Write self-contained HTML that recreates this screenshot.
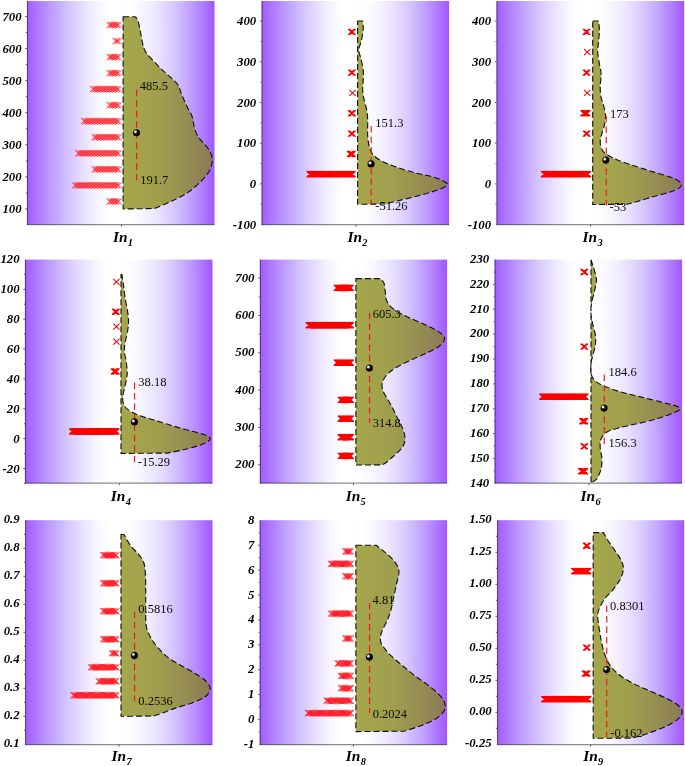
<!DOCTYPE html><html><head><meta charset="utf-8"><title>Violin panels</title>
<style>html,body{margin:0;padding:0;background:#fff}svg{display:block}text{font-family:"Liberation Serif","DejaVu Serif",serif}.tk{font-weight:bold;font-style:italic;font-size:12.8px;text-anchor:end;fill:#000}.an{font-size:12.5px;fill:#0c0c06}.tt{font-weight:bold;font-style:italic;font-size:15.4px;fill:#000}.sb{font-weight:bold;font-style:italic;font-size:10.4px;fill:#000}</style></head><body>
<svg width="685" height="766" viewBox="0 0 685 766">
<defs>
<linearGradient id="bg" x1="0" y1="0" x2="1" y2="0"><stop offset="0" stop-color="#a45aff"/><stop offset="0.025" stop-color="#a868ff"/><stop offset="0.05" stop-color="#ad75ff"/><stop offset="0.075" stop-color="#b281ff"/><stop offset="0.1" stop-color="#b88eff"/><stop offset="0.125" stop-color="#bd9aff"/><stop offset="0.15" stop-color="#c3a5ff"/><stop offset="0.175" stop-color="#c9b0ff"/><stop offset="0.2" stop-color="#cfbbff"/><stop offset="0.225" stop-color="#d5c5ff"/><stop offset="0.25" stop-color="#dbceff"/><stop offset="0.275" stop-color="#e1d7ff"/><stop offset="0.3" stop-color="#e7dfff"/><stop offset="0.325" stop-color="#ede7ff"/><stop offset="0.35" stop-color="#f2eeff"/><stop offset="0.375" stop-color="#f6f4ff"/><stop offset="0.4" stop-color="#faf9ff"/><stop offset="0.425" stop-color="#fdfdff"/><stop offset="0.45" stop-color="#ffffff"/><stop offset="0.475" stop-color="#ffffff"/><stop offset="0.5" stop-color="#ffffff"/><stop offset="0.525" stop-color="#fefeff"/><stop offset="0.55" stop-color="#fdfdff"/><stop offset="0.575" stop-color="#fbfaff"/><stop offset="0.6" stop-color="#f9f7ff"/><stop offset="0.625" stop-color="#f6f3ff"/><stop offset="0.65" stop-color="#f2eeff"/><stop offset="0.675" stop-color="#eee9ff"/><stop offset="0.7" stop-color="#e9e2ff"/><stop offset="0.725" stop-color="#e4dbff"/><stop offset="0.75" stop-color="#dfd3ff"/><stop offset="0.775" stop-color="#d9caff"/><stop offset="0.8" stop-color="#d3c0ff"/><stop offset="0.825" stop-color="#ccb6ff"/><stop offset="0.85" stop-color="#c6aaff"/><stop offset="0.875" stop-color="#c09eff"/><stop offset="0.9" stop-color="#b991ff"/><stop offset="0.925" stop-color="#b383ff"/><stop offset="0.95" stop-color="#ad75ff"/><stop offset="0.975" stop-color="#a765ff"/><stop offset="1" stop-color="#a255ff"/></linearGradient>
<linearGradient id="vg" x1="0" y1="0" x2="1" y2="0"><stop offset="0" stop-color="#a6a64c"/><stop offset="0.4" stop-color="#a09f4e"/><stop offset="0.75" stop-color="#958b52"/><stop offset="1" stop-color="#8a7a56"/></linearGradient>
<radialGradient id="ball" cx="0.35" cy="0.36" r="0.5"><stop offset="0" stop-color="#ffffff"/><stop offset="0.22" stop-color="#e8e8e8"/><stop offset="0.42" stop-color="#5a5a5a"/><stop offset="0.62" stop-color="#0a0a0a"/><stop offset="1" stop-color="#000"/></radialGradient>
</defs>
<rect width="685" height="766" fill="#fff"/>
<g><rect x="27" y="1" width="187.5" height="223.7" fill="url(#bg)"/><path d="M27.45 1V224.7" fill="none" stroke="#000" stroke-opacity="0.42" stroke-width="1.2"/><path d="M26.8 224.55H214.5" fill="none" stroke="#000" stroke-opacity="0.45" stroke-width="1.3"/><text class="tk" x="21.6" y="213.2">100</text><text class="tk" x="21.6" y="181.12">200</text><text class="tk" x="21.6" y="149.03">300</text><text class="tk" x="21.6" y="116.95">400</text><text class="tk" x="21.6" y="84.87">500</text><text class="tk" x="21.6" y="52.78">600</text><text class="tk" x="21.6" y="20.7">700</text><path d="M25.3 209H27M25.3 176.92H27M25.3 144.83H27M25.3 112.75H27M25.3 80.67H27M25.3 48.58H27M25.3 16.5H27M25.9 192.96H27M25.9 160.88H27M25.9 128.79H27M25.9 96.71H27M25.9 64.62H27M25.9 32.54H27M121.6 224.7V226.6" stroke="#333" stroke-width="0.8" fill="none"/><path d="M115.35 21.97L121.65 27.97M115.35 27.97L121.65 21.97M113.85 21.97L120.15 27.97M113.85 27.97L120.15 21.97M112.35 21.97L118.65 27.97M112.35 27.97L118.65 21.97M110.85 21.97L117.15 27.97M110.85 27.97L117.15 21.97M109.35 21.97L115.65 27.97M109.35 27.97L115.65 21.97M107.85 21.97L114.15 27.97M107.85 27.97L114.15 21.97M106.35 21.97L112.65 27.97M106.35 27.97L112.65 21.97" stroke="#ff1420" stroke-opacity="0.95" stroke-width="0.85" fill="none"/><path d="M115.35 38.01L121.65 44.01M115.35 44.01L121.65 38.01M113.85 38.01L120.15 44.01M113.85 44.01L120.15 38.01M112.35 38.01L118.65 44.01M112.35 44.01L118.65 38.01" stroke="#ff1420" stroke-opacity="0.95" stroke-width="0.85" fill="none"/><path d="M115.35 54.05L121.65 60.05M115.35 60.05L121.65 54.05M113.85 54.05L120.15 60.05M113.85 60.05L120.15 54.05M112.35 54.05L118.65 60.05M112.35 60.05L118.65 54.05M110.85 54.05L117.15 60.05M110.85 60.05L117.15 54.05M109.35 54.05L115.65 60.05M109.35 60.05L115.65 54.05M107.85 54.05L114.15 60.05M107.85 60.05L114.15 54.05M106.35 54.05L112.65 60.05M106.35 60.05L112.65 54.05" stroke="#ff1420" stroke-opacity="0.95" stroke-width="0.85" fill="none"/><path d="M115.35 70.1L121.65 76.1M115.35 76.1L121.65 70.1M113.85 70.1L120.15 76.1M113.85 76.1L120.15 70.1M112.35 70.1L118.65 76.1M112.35 76.1L118.65 70.1M110.85 70.1L117.15 76.1M110.85 76.1L117.15 70.1M109.35 70.1L115.65 76.1M109.35 76.1L115.65 70.1M107.85 70.1L114.15 76.1M107.85 76.1L114.15 70.1M106.35 70.1L112.65 76.1M106.35 76.1L112.65 70.1" stroke="#ff1420" stroke-opacity="0.95" stroke-width="0.85" fill="none"/><path d="M115.35 86.14L121.65 92.14M115.35 92.14L121.65 86.14M113.85 86.14L120.15 92.14M113.85 92.14L120.15 86.14M112.35 86.14L118.65 92.14M112.35 92.14L118.65 86.14M110.85 86.14L117.15 92.14M110.85 92.14L117.15 86.14M109.35 86.14L115.65 92.14M109.35 92.14L115.65 86.14M107.85 86.14L114.15 92.14M107.85 92.14L114.15 86.14M106.35 86.14L112.65 92.14M106.35 92.14L112.65 86.14M104.85 86.14L111.15 92.14M104.85 92.14L111.15 86.14M103.35 86.14L109.65 92.14M103.35 92.14L109.65 86.14M101.85 86.14L108.15 92.14M101.85 92.14L108.15 86.14M100.35 86.14L106.65 92.14M100.35 92.14L106.65 86.14M98.85 86.14L105.15 92.14M98.85 92.14L105.15 86.14M97.35 86.14L103.65 92.14M97.35 92.14L103.65 86.14M95.85 86.14L102.15 92.14M95.85 92.14L102.15 86.14M94.35 86.14L100.65 92.14M94.35 92.14L100.65 86.14M92.85 86.14L99.15 92.14M92.85 92.14L99.15 86.14M91.35 86.14L97.65 92.14M91.35 92.14L97.65 86.14M89.85 86.14L96.15 92.14M89.85 92.14L96.15 86.14" stroke="#ff1420" stroke-opacity="0.95" stroke-width="0.85" fill="none"/><path d="M115.35 102.18L121.65 108.18M115.35 108.18L121.65 102.18M113.85 102.18L120.15 108.18M113.85 108.18L120.15 102.18M112.35 102.18L118.65 108.18M112.35 108.18L118.65 102.18M110.85 102.18L117.15 108.18M110.85 108.18L117.15 102.18M109.35 102.18L115.65 108.18M109.35 108.18L115.65 102.18M107.85 102.18L114.15 108.18M107.85 108.18L114.15 102.18M106.35 102.18L112.65 108.18M106.35 108.18L112.65 102.18" stroke="#ff1420" stroke-opacity="0.95" stroke-width="0.85" fill="none"/><path d="M115.35 118.22L121.65 124.22M115.35 124.22L121.65 118.22M113.85 118.22L120.15 124.22M113.85 124.22L120.15 118.22M112.35 118.22L118.65 124.22M112.35 124.22L118.65 118.22M110.85 118.22L117.15 124.22M110.85 124.22L117.15 118.22M109.35 118.22L115.65 124.22M109.35 124.22L115.65 118.22M107.85 118.22L114.15 124.22M107.85 124.22L114.15 118.22M106.35 118.22L112.65 124.22M106.35 124.22L112.65 118.22M104.85 118.22L111.15 124.22M104.85 124.22L111.15 118.22M103.35 118.22L109.65 124.22M103.35 124.22L109.65 118.22M101.85 118.22L108.15 124.22M101.85 124.22L108.15 118.22M100.35 118.22L106.65 124.22M100.35 124.22L106.65 118.22M98.85 118.22L105.15 124.22M98.85 124.22L105.15 118.22M97.35 118.22L103.65 124.22M97.35 124.22L103.65 118.22M95.85 118.22L102.15 124.22M95.85 124.22L102.15 118.22M94.35 118.22L100.65 124.22M94.35 124.22L100.65 118.22M92.85 118.22L99.15 124.22M92.85 124.22L99.15 118.22M91.35 118.22L97.65 124.22M91.35 124.22L97.65 118.22M89.85 118.22L96.15 124.22M89.85 124.22L96.15 118.22M88.35 118.22L94.65 124.22M88.35 124.22L94.65 118.22M86.85 118.22L93.15 124.22M86.85 124.22L93.15 118.22M85.35 118.22L91.65 124.22M85.35 124.22L91.65 118.22M83.85 118.22L90.15 124.22M83.85 124.22L90.15 118.22M82.35 118.22L88.65 124.22M82.35 124.22L88.65 118.22M80.85 118.22L87.15 124.22M80.85 124.22L87.15 118.22" stroke="#ff1420" stroke-opacity="0.95" stroke-width="0.85" fill="none"/><path d="M115.35 134.26L121.65 140.26M115.35 140.26L121.65 134.26M113.85 134.26L120.15 140.26M113.85 140.26L120.15 134.26M112.35 134.26L118.65 140.26M112.35 140.26L118.65 134.26M110.85 134.26L117.15 140.26M110.85 140.26L117.15 134.26M109.35 134.26L115.65 140.26M109.35 140.26L115.65 134.26M107.85 134.26L114.15 140.26M107.85 140.26L114.15 134.26M106.35 134.26L112.65 140.26M106.35 140.26L112.65 134.26M104.85 134.26L111.15 140.26M104.85 140.26L111.15 134.26M103.35 134.26L109.65 140.26M103.35 140.26L109.65 134.26M101.85 134.26L108.15 140.26M101.85 140.26L108.15 134.26M100.35 134.26L106.65 140.26M100.35 140.26L106.65 134.26M98.85 134.26L105.15 140.26M98.85 140.26L105.15 134.26M97.35 134.26L103.65 140.26M97.35 140.26L103.65 134.26M95.85 134.26L102.15 140.26M95.85 140.26L102.15 134.26M94.35 134.26L100.65 140.26M94.35 140.26L100.65 134.26M92.85 134.26L99.15 140.26M92.85 140.26L99.15 134.26M91.35 134.26L97.65 140.26M91.35 140.26L97.65 134.26" stroke="#ff1420" stroke-opacity="0.95" stroke-width="0.85" fill="none"/><path d="M115.35 150.3L121.65 156.3M115.35 156.3L121.65 150.3M113.85 150.3L120.15 156.3M113.85 156.3L120.15 150.3M112.35 150.3L118.65 156.3M112.35 156.3L118.65 150.3M110.85 150.3L117.15 156.3M110.85 156.3L117.15 150.3M109.35 150.3L115.65 156.3M109.35 156.3L115.65 150.3M107.85 150.3L114.15 156.3M107.85 156.3L114.15 150.3M106.35 150.3L112.65 156.3M106.35 156.3L112.65 150.3M104.85 150.3L111.15 156.3M104.85 156.3L111.15 150.3M103.35 150.3L109.65 156.3M103.35 156.3L109.65 150.3M101.85 150.3L108.15 156.3M101.85 156.3L108.15 150.3M100.35 150.3L106.65 156.3M100.35 156.3L106.65 150.3M98.85 150.3L105.15 156.3M98.85 156.3L105.15 150.3M97.35 150.3L103.65 156.3M97.35 156.3L103.65 150.3M95.85 150.3L102.15 156.3M95.85 156.3L102.15 150.3M94.35 150.3L100.65 156.3M94.35 156.3L100.65 150.3M92.85 150.3L99.15 156.3M92.85 156.3L99.15 150.3M91.35 150.3L97.65 156.3M91.35 156.3L97.65 150.3M89.85 150.3L96.15 156.3M89.85 156.3L96.15 150.3M88.35 150.3L94.65 156.3M88.35 156.3L94.65 150.3M86.85 150.3L93.15 156.3M86.85 156.3L93.15 150.3M85.35 150.3L91.65 156.3M85.35 156.3L91.65 150.3M83.85 150.3L90.15 156.3M83.85 156.3L90.15 150.3M82.35 150.3L88.65 156.3M82.35 156.3L88.65 150.3M80.85 150.3L87.15 156.3M80.85 156.3L87.15 150.3M79.35 150.3L85.65 156.3M79.35 156.3L85.65 150.3M77.85 150.3L84.15 156.3M77.85 156.3L84.15 150.3M76.35 150.3L82.65 156.3M76.35 156.3L82.65 150.3M74.85 150.3L81.15 156.3M74.85 156.3L81.15 150.3" stroke="#ff1420" stroke-opacity="0.95" stroke-width="0.85" fill="none"/><path d="M115.35 166.35L121.65 172.35M115.35 172.35L121.65 166.35M113.85 166.35L120.15 172.35M113.85 172.35L120.15 166.35M112.35 166.35L118.65 172.35M112.35 172.35L118.65 166.35M110.85 166.35L117.15 172.35M110.85 172.35L117.15 166.35M109.35 166.35L115.65 172.35M109.35 172.35L115.65 166.35M107.85 166.35L114.15 172.35M107.85 172.35L114.15 166.35M106.35 166.35L112.65 172.35M106.35 172.35L112.65 166.35M104.85 166.35L111.15 172.35M104.85 172.35L111.15 166.35M103.35 166.35L109.65 172.35M103.35 172.35L109.65 166.35M101.85 166.35L108.15 172.35M101.85 172.35L108.15 166.35M100.35 166.35L106.65 172.35M100.35 172.35L106.65 166.35M98.85 166.35L105.15 172.35M98.85 172.35L105.15 166.35M97.35 166.35L103.65 172.35M97.35 172.35L103.65 166.35M95.85 166.35L102.15 172.35M95.85 172.35L102.15 166.35M94.35 166.35L100.65 172.35M94.35 172.35L100.65 166.35M92.85 166.35L99.15 172.35M92.85 172.35L99.15 166.35M91.35 166.35L97.65 172.35M91.35 172.35L97.65 166.35" stroke="#ff1420" stroke-opacity="0.95" stroke-width="0.85" fill="none"/><path d="M115.35 182.39L121.65 188.39M115.35 188.39L121.65 182.39M113.85 182.39L120.15 188.39M113.85 188.39L120.15 182.39M112.35 182.39L118.65 188.39M112.35 188.39L118.65 182.39M110.85 182.39L117.15 188.39M110.85 188.39L117.15 182.39M109.35 182.39L115.65 188.39M109.35 188.39L115.65 182.39M107.85 182.39L114.15 188.39M107.85 188.39L114.15 182.39M106.35 182.39L112.65 188.39M106.35 188.39L112.65 182.39M104.85 182.39L111.15 188.39M104.85 188.39L111.15 182.39M103.35 182.39L109.65 188.39M103.35 188.39L109.65 182.39M101.85 182.39L108.15 188.39M101.85 188.39L108.15 182.39M100.35 182.39L106.65 188.39M100.35 188.39L106.65 182.39M98.85 182.39L105.15 188.39M98.85 188.39L105.15 182.39M97.35 182.39L103.65 188.39M97.35 188.39L103.65 182.39M95.85 182.39L102.15 188.39M95.85 188.39L102.15 182.39M94.35 182.39L100.65 188.39M94.35 188.39L100.65 182.39M92.85 182.39L99.15 188.39M92.85 188.39L99.15 182.39M91.35 182.39L97.65 188.39M91.35 188.39L97.65 182.39M89.85 182.39L96.15 188.39M89.85 188.39L96.15 182.39M88.35 182.39L94.65 188.39M88.35 188.39L94.65 182.39M86.85 182.39L93.15 188.39M86.85 188.39L93.15 182.39M85.35 182.39L91.65 188.39M85.35 188.39L91.65 182.39M83.85 182.39L90.15 188.39M83.85 188.39L90.15 182.39M82.35 182.39L88.65 188.39M82.35 188.39L88.65 182.39M80.85 182.39L87.15 188.39M80.85 188.39L87.15 182.39M79.35 182.39L85.65 188.39M79.35 188.39L85.65 182.39M77.85 182.39L84.15 188.39M77.85 188.39L84.15 182.39M76.35 182.39L82.65 188.39M76.35 188.39L82.65 182.39M74.85 182.39L81.15 188.39M74.85 188.39L81.15 182.39M73.35 182.39L79.65 188.39M73.35 188.39L79.65 182.39M71.85 182.39L78.15 188.39M71.85 188.39L78.15 182.39" stroke="#ff1420" stroke-opacity="0.95" stroke-width="0.85" fill="none"/><path d="M115.35 198.43L121.65 204.43M115.35 204.43L121.65 198.43M113.85 198.43L120.15 204.43M113.85 204.43L120.15 198.43M112.35 198.43L118.65 204.43M112.35 204.43L118.65 198.43M110.85 198.43L117.15 204.43M110.85 204.43L117.15 198.43M109.35 198.43L115.65 204.43M109.35 204.43L115.65 198.43M107.85 198.43L114.15 204.43M107.85 204.43L114.15 198.43M106.35 198.43L112.65 204.43M106.35 204.43L112.65 198.43" stroke="#ff1420" stroke-opacity="0.95" stroke-width="0.85" fill="none"/><path d="M123.1 16.8L135.1 16.8C135.53 17.35 136.85 17.87 137.7 20.1C138.55 22.33 139.37 26.28 140.2 30.2C141.03 34.12 141.75 39.9 142.7 43.6C143.65 47.3 143.8 49.18 145.9 52.4C148 55.62 152.37 59.77 155.3 62.9C158.23 66.03 160.77 68.65 163.5 71.2C166.23 73.75 169.25 75.85 171.7 78.2C174.15 80.55 176.53 82.55 178.2 85.3C179.87 88.05 180.23 91.18 181.7 94.7C183.17 98.22 185.23 102.68 187 106.4C188.77 110.12 191.12 113.67 192.3 117C193.48 120.33 193.25 123.32 194.1 126.4C194.95 129.48 195.95 132.83 197.4 135.5C198.85 138.17 200.87 140.02 202.8 142.4C204.73 144.78 207.42 147.03 209 149.8C210.58 152.57 212.17 155.63 212.3 159C212.43 162.37 211.48 166.5 209.8 170C208.12 173.5 205.7 176.37 202.2 180C198.7 183.63 193.83 188.3 188.8 191.8C183.77 195.3 177.73 198.22 172 201C166.27 203.78 157.33 207.25 154.4 208.5L123.1 209Z" fill="url(#vg)" stroke="#111" stroke-width="1.12" stroke-dasharray="6 3" stroke-linejoin="round"/><path d="M136.65 89.8V180" stroke="#f51414" stroke-width="1.15" stroke-dasharray="6.4 4.1" fill="none"/><circle cx="136.5" cy="132.7" r="3.55" fill="url(#ball)"/><text class="an" x="139.8" y="89.8">485.5</text><text class="an" x="140.2" y="184">191.7</text><text class="tt" x="112.9" y="241.7">In<tspan class="sb" dx="0.3" dy="4.3">1</tspan></text></g>
<g><rect x="261.6" y="1" width="187.5" height="223.7" fill="url(#bg)"/><path d="M262.05 1V224.7" fill="none" stroke="#000" stroke-opacity="0.42" stroke-width="1.2"/><path d="M261.4 224.55H449.1" fill="none" stroke="#000" stroke-opacity="0.45" stroke-width="1.3"/><text class="tk" x="256.2" y="228.8">-100</text><text class="tk" x="256.2" y="188.1">0</text><text class="tk" x="256.2" y="147.4">100</text><text class="tk" x="256.2" y="106.7">200</text><text class="tk" x="256.2" y="66">300</text><text class="tk" x="256.2" y="25.3">400</text><path d="M259.9 183.9H261.6M259.9 143.2H261.6M259.9 102.5H261.6M259.9 61.8H261.6M259.9 21.1H261.6M260.5 204.25H261.6M260.5 163.55H261.6M260.5 122.85H261.6M260.5 82.15H261.6M260.5 41.45H261.6M356.1 224.7V226.6" stroke="#333" stroke-width="0.8" fill="none"/><path d="M349.45 171.2L355.75 177.2M349.45 177.2L355.75 171.2M348.45 171.2L354.75 177.2M348.45 177.2L354.75 171.2M347.45 171.2L353.75 177.2M347.45 177.2L353.75 171.2M346.45 171.2L352.75 177.2M346.45 177.2L352.75 171.2M345.45 171.2L351.75 177.2M345.45 177.2L351.75 171.2M344.45 171.2L350.75 177.2M344.45 177.2L350.75 171.2M343.45 171.2L349.75 177.2M343.45 177.2L349.75 171.2M342.45 171.2L348.75 177.2M342.45 177.2L348.75 171.2M341.45 171.2L347.75 177.2M341.45 177.2L347.75 171.2M340.45 171.2L346.75 177.2M340.45 177.2L346.75 171.2M339.45 171.2L345.75 177.2M339.45 177.2L345.75 171.2M338.45 171.2L344.75 177.2M338.45 177.2L344.75 171.2M337.45 171.2L343.75 177.2M337.45 177.2L343.75 171.2M336.45 171.2L342.75 177.2M336.45 177.2L342.75 171.2M335.45 171.2L341.75 177.2M335.45 177.2L341.75 171.2M334.45 171.2L340.75 177.2M334.45 177.2L340.75 171.2M333.45 171.2L339.75 177.2M333.45 177.2L339.75 171.2M332.45 171.2L338.75 177.2M332.45 177.2L338.75 171.2M331.45 171.2L337.75 177.2M331.45 177.2L337.75 171.2M330.45 171.2L336.75 177.2M330.45 177.2L336.75 171.2M329.45 171.2L335.75 177.2M329.45 177.2L335.75 171.2M328.45 171.2L334.75 177.2M328.45 177.2L334.75 171.2M327.45 171.2L333.75 177.2M327.45 177.2L333.75 171.2M326.45 171.2L332.75 177.2M326.45 177.2L332.75 171.2M325.45 171.2L331.75 177.2M325.45 177.2L331.75 171.2M324.45 171.2L330.75 177.2M324.45 177.2L330.75 171.2M323.45 171.2L329.75 177.2M323.45 177.2L329.75 171.2M322.45 171.2L328.75 177.2M322.45 177.2L328.75 171.2M321.45 171.2L327.75 177.2M321.45 177.2L327.75 171.2M320.45 171.2L326.75 177.2M320.45 177.2L326.75 171.2M319.45 171.2L325.75 177.2M319.45 177.2L325.75 171.2M318.45 171.2L324.75 177.2M318.45 177.2L324.75 171.2M317.45 171.2L323.75 177.2M317.45 177.2L323.75 171.2M316.45 171.2L322.75 177.2M316.45 177.2L322.75 171.2M315.45 171.2L321.75 177.2M315.45 177.2L321.75 171.2M314.45 171.2L320.75 177.2M314.45 177.2L320.75 171.2M313.45 171.2L319.75 177.2M313.45 177.2L319.75 171.2M312.45 171.2L318.75 177.2M312.45 177.2L318.75 171.2M311.45 171.2L317.75 177.2M311.45 177.2L317.75 171.2M310.45 171.2L316.75 177.2M310.45 177.2L316.75 171.2M309.45 171.2L315.75 177.2M309.45 177.2L315.75 171.2M308.45 171.2L314.75 177.2M308.45 177.2L314.75 171.2M307.45 171.2L313.75 177.2M307.45 177.2L313.75 171.2M306.45 171.2L312.75 177.2M306.45 177.2L312.75 171.2" stroke="#ff0000" stroke-width="1.15" fill="none"/><path d="M349.35 28.88L355.65 34.88M349.35 34.88L355.65 28.88M348.1 28.88L354.4 34.88M348.1 34.88L354.4 28.88" stroke="#ff0000" stroke-width="1.2" fill="none"/><path d="M349.35 69.57L355.65 75.57M349.35 75.57L355.65 69.57M348.1 69.57L354.4 75.57M348.1 75.57L354.4 69.57" stroke="#ff0000" stroke-width="1.2" fill="none"/><path d="M349.35 89.92L355.65 95.92M349.35 95.92L355.65 89.92" stroke="#ff0000" stroke-width="1.05" fill="none"/><path d="M349.35 110.28L355.65 116.28M349.35 116.28L355.65 110.28M348.1 110.28L354.4 116.28M348.1 116.28L354.4 110.28" stroke="#ff0000" stroke-width="1.2" fill="none"/><path d="M349.35 130.62L355.65 136.62M349.35 136.62L355.65 130.62M348.1 130.62L354.4 136.62M348.1 136.62L354.4 130.62" stroke="#ff0000" stroke-width="1.2" fill="none"/><path d="M349.35 150.97L355.65 156.97M349.35 156.97L355.65 150.97M348.15 150.97L354.45 156.97M348.15 156.97L354.45 150.97M346.95 150.97L353.25 156.97M346.95 156.97L353.25 150.97" stroke="#ff0000" stroke-width="1.2" fill="none"/><path d="M357.6 21L362.7 21C362.78 22.53 363.48 26.7 363.2 30.2C362.92 33.7 361.73 38.63 361 42C360.27 45.37 358.8 47.6 358.8 50.4C358.8 53.2 360.27 55.45 361 58.8C361.73 62.15 362.83 66.87 363.2 70.5C363.57 74.13 363.28 77.25 363.2 80.6C363.12 83.95 362.52 87.25 362.7 90.6C362.88 93.95 363.6 97.33 364.3 100.7C365 104.07 366.33 107.43 366.9 110.8C367.47 114.17 367.57 116.83 367.7 120.9C367.83 124.97 367.42 130.87 367.7 135.2C367.98 139.53 368.42 143.55 369.4 146.9C370.38 150.25 371.23 152.78 373.6 155.3C375.97 157.82 379.4 159.9 383.6 162C387.8 164.1 393.48 166.07 398.8 167.9C404.12 169.73 410.2 171.6 415.5 173C420.8 174.4 426.4 175.18 430.6 176.3C434.8 177.42 438.03 178.58 440.7 179.7C443.37 180.82 445.62 182.03 446.6 183C447.58 183.97 447.58 184.52 446.6 185.5C445.62 186.48 443.37 187.77 440.7 188.9C438.03 190.03 434.8 191.03 430.6 192.3C426.4 193.57 420.8 195.12 415.5 196.5C410.2 197.88 403.83 199.35 398.8 200.6C393.77 201.85 387.55 203.43 385.3 204L357.6 204.3Z" fill="url(#vg)" stroke="#111" stroke-width="1.12" stroke-dasharray="6 3" stroke-linejoin="round"/><path d="M371.2 126V204.8" stroke="#f51414" stroke-width="1.15" stroke-dasharray="6.4 4.1" fill="none"/><circle cx="371.05" cy="163.9" r="3.55" fill="url(#ball)"/><text class="an" x="375.3" y="126.8">151.3</text><text class="an" x="375.3" y="210.1">-51.26</text><text class="tt" x="347.5" y="241.7">In<tspan class="sb" dx="0.3" dy="4.3">2</tspan></text></g>
<g><rect x="496.5" y="1" width="187.7" height="223.7" fill="url(#bg)"/><path d="M496.95 1V224.7" fill="none" stroke="#000" stroke-opacity="0.42" stroke-width="1.2"/><path d="M496.3 224.55H684.2" fill="none" stroke="#000" stroke-opacity="0.45" stroke-width="1.3"/><text class="tk" x="491.1" y="228.8">-100</text><text class="tk" x="491.1" y="188.1">0</text><text class="tk" x="491.1" y="147.4">100</text><text class="tk" x="491.1" y="106.7">200</text><text class="tk" x="491.1" y="66">300</text><text class="tk" x="491.1" y="25.3">400</text><path d="M494.8 183.9H496.5M494.8 143.2H496.5M494.8 102.5H496.5M494.8 61.8H496.5M494.8 21.1H496.5M495.4 204.25H496.5M495.4 163.55H496.5M495.4 122.85H496.5M495.4 82.15H496.5M495.4 41.45H496.5M590.5 224.7V226.6" stroke="#333" stroke-width="0.8" fill="none"/><path d="M584.85 171.2L591.15 177.2M584.85 177.2L591.15 171.2M583.85 171.2L590.15 177.2M583.85 177.2L590.15 171.2M582.85 171.2L589.15 177.2M582.85 177.2L589.15 171.2M581.85 171.2L588.15 177.2M581.85 177.2L588.15 171.2M580.85 171.2L587.15 177.2M580.85 177.2L587.15 171.2M579.85 171.2L586.15 177.2M579.85 177.2L586.15 171.2M578.85 171.2L585.15 177.2M578.85 177.2L585.15 171.2M577.85 171.2L584.15 177.2M577.85 177.2L584.15 171.2M576.85 171.2L583.15 177.2M576.85 177.2L583.15 171.2M575.85 171.2L582.15 177.2M575.85 177.2L582.15 171.2M574.85 171.2L581.15 177.2M574.85 177.2L581.15 171.2M573.85 171.2L580.15 177.2M573.85 177.2L580.15 171.2M572.85 171.2L579.15 177.2M572.85 177.2L579.15 171.2M571.85 171.2L578.15 177.2M571.85 177.2L578.15 171.2M570.85 171.2L577.15 177.2M570.85 177.2L577.15 171.2M569.85 171.2L576.15 177.2M569.85 177.2L576.15 171.2M568.85 171.2L575.15 177.2M568.85 177.2L575.15 171.2M567.85 171.2L574.15 177.2M567.85 177.2L574.15 171.2M566.85 171.2L573.15 177.2M566.85 177.2L573.15 171.2M565.85 171.2L572.15 177.2M565.85 177.2L572.15 171.2M564.85 171.2L571.15 177.2M564.85 177.2L571.15 171.2M563.85 171.2L570.15 177.2M563.85 177.2L570.15 171.2M562.85 171.2L569.15 177.2M562.85 177.2L569.15 171.2M561.85 171.2L568.15 177.2M561.85 177.2L568.15 171.2M560.85 171.2L567.15 177.2M560.85 177.2L567.15 171.2M559.85 171.2L566.15 177.2M559.85 177.2L566.15 171.2M558.85 171.2L565.15 177.2M558.85 177.2L565.15 171.2M557.85 171.2L564.15 177.2M557.85 177.2L564.15 171.2M556.85 171.2L563.15 177.2M556.85 177.2L563.15 171.2M555.85 171.2L562.15 177.2M555.85 177.2L562.15 171.2M554.85 171.2L561.15 177.2M554.85 177.2L561.15 171.2M553.85 171.2L560.15 177.2M553.85 177.2L560.15 171.2M552.85 171.2L559.15 177.2M552.85 177.2L559.15 171.2M551.85 171.2L558.15 177.2M551.85 177.2L558.15 171.2M550.85 171.2L557.15 177.2M550.85 177.2L557.15 171.2M549.85 171.2L556.15 177.2M549.85 177.2L556.15 171.2M548.85 171.2L555.15 177.2M548.85 177.2L555.15 171.2M547.85 171.2L554.15 177.2M547.85 177.2L554.15 171.2M546.85 171.2L553.15 177.2M546.85 177.2L553.15 171.2M545.85 171.2L552.15 177.2M545.85 177.2L552.15 171.2M544.85 171.2L551.15 177.2M544.85 177.2L551.15 171.2M543.85 171.2L550.15 177.2M543.85 177.2L550.15 171.2M542.85 171.2L549.15 177.2M542.85 177.2L549.15 171.2M541.85 171.2L548.15 177.2M541.85 177.2L548.15 171.2M540.85 171.2L547.15 177.2M540.85 177.2L547.15 171.2" stroke="#ff0000" stroke-width="1.15" fill="none"/><path d="M584.05 28.88L590.35 34.88M584.05 34.88L590.35 28.88M582.8 28.88L589.1 34.88M582.8 34.88L589.1 28.88" stroke="#ff0000" stroke-width="1.2" fill="none"/><path d="M584.05 49.23L590.35 55.23M584.05 55.23L590.35 49.23" stroke="#ff0000" stroke-width="1.05" fill="none"/><path d="M584.05 69.57L590.35 75.57M584.05 75.57L590.35 69.57M582.8 69.57L589.1 75.57M582.8 75.57L589.1 69.57" stroke="#ff0000" stroke-width="1.2" fill="none"/><path d="M584.05 89.92L590.35 95.92M584.05 95.92L590.35 89.92" stroke="#ff0000" stroke-width="1.05" fill="none"/><path d="M584.05 110.28L590.35 116.28M584.05 116.28L590.35 110.28M582.85 110.28L589.15 116.28M582.85 116.28L589.15 110.28M581.65 110.28L587.95 116.28M581.65 116.28L587.95 110.28M580.45 110.28L586.75 116.28M580.45 116.28L586.75 110.28" stroke="#ff0000" stroke-width="1.2" fill="none"/><path d="M584.05 130.62L590.35 136.62M584.05 136.62L590.35 130.62M582.8 130.62L589.1 136.62M582.8 136.62L589.1 130.62" stroke="#ff0000" stroke-width="1.2" fill="none"/><path d="M592.7 21L598.5 21C598.65 22.53 599.4 26.7 599.4 30.2C599.4 33.7 598.78 38.37 598.5 42C598.22 45.63 597.55 48.37 597.7 52C597.85 55.63 598.83 60.15 599.4 63.8C599.97 67.45 600.97 69.98 601.1 73.9C601.23 77.82 600.2 83.38 600.2 87.3C600.2 91.22 600.53 94.32 601.1 97.4C601.67 100.48 602.85 102.73 603.6 105.8C604.35 108.87 605.47 112.58 605.6 115.8C605.73 119.02 605.02 122.15 604.4 125.1C603.78 128.05 602.6 130.7 601.9 133.5C601.2 136.3 600.2 139.25 600.2 141.9C600.2 144.55 600.78 147.3 601.9 149.4C603.02 151.5 604.1 152.67 606.9 154.5C609.7 156.33 613.93 158.45 618.7 160.4C623.47 162.35 629.63 164.25 635.5 166.2C641.37 168.15 648.03 170.27 653.9 172.1C659.77 173.93 666.5 175.67 670.7 177.2C674.9 178.73 677.28 180.18 679.1 181.3C680.92 182.42 681.6 182.77 681.6 183.9C681.6 185.03 681.2 186.7 679.1 188.1C677 189.5 673.2 190.9 669 192.3C664.8 193.7 659.2 194.97 653.9 196.5C648.6 198.03 641.67 200.2 637.2 201.5C632.73 202.8 628.78 203.83 627.1 204.3L592.7 204.5Z" fill="url(#vg)" stroke="#111" stroke-width="1.12" stroke-dasharray="6 3" stroke-linejoin="round"/><path d="M606.25 115.9V205.7" stroke="#f51414" stroke-width="1.15" stroke-dasharray="6.4 4.1" fill="none"/><circle cx="605.8" cy="160.1" r="3.55" fill="url(#ball)"/><text class="an" x="610" y="117.5">173</text><text class="an" x="609.5" y="210.5">-53</text><text class="tt" x="582.6" y="241.7">In<tspan class="sb" dx="0.3" dy="4.3">3</tspan></text></g>
<g><rect x="25" y="259.6" width="187.5" height="223.7" fill="url(#bg)"/><path d="M25.45 259.6V483.3" fill="none" stroke="#000" stroke-opacity="0.42" stroke-width="1.2"/><path d="M24.8 483.15H212.5" fill="none" stroke="#000" stroke-opacity="0.45" stroke-width="1.3"/><text class="tk" x="19.6" y="472.58">-20</text><text class="tk" x="19.6" y="442.7">0</text><text class="tk" x="19.6" y="412.82">20</text><text class="tk" x="19.6" y="382.93">40</text><text class="tk" x="19.6" y="353.05">60</text><text class="tk" x="19.6" y="323.17">80</text><text class="tk" x="19.6" y="293.28">100</text><text class="tk" x="19.6" y="262.7">120</text><path d="M23.3 468.58H25M23.3 438.7H25M23.3 408.82H25M23.3 378.93H25M23.3 349.05H25M23.3 319.17H25M23.3 289.28H25M23.9 483.52H25M23.9 453.64H25M23.9 423.76H25M23.9 393.88H25M23.9 363.99H25M23.9 334.11H25M23.9 304.22H25M23.9 274.34H25M119.3 483.3V485.2" stroke="#333" stroke-width="0.8" fill="none"/><path d="M113.15 428.5L119.45 434.5M113.15 434.5L119.45 428.5M112.15 428.5L118.45 434.5M112.15 434.5L118.45 428.5M111.15 428.5L117.45 434.5M111.15 434.5L117.45 428.5M110.15 428.5L116.45 434.5M110.15 434.5L116.45 428.5M109.15 428.5L115.45 434.5M109.15 434.5L115.45 428.5M108.15 428.5L114.45 434.5M108.15 434.5L114.45 428.5M107.15 428.5L113.45 434.5M107.15 434.5L113.45 428.5M106.15 428.5L112.45 434.5M106.15 434.5L112.45 428.5M105.15 428.5L111.45 434.5M105.15 434.5L111.45 428.5M104.15 428.5L110.45 434.5M104.15 434.5L110.45 428.5M103.15 428.5L109.45 434.5M103.15 434.5L109.45 428.5M102.15 428.5L108.45 434.5M102.15 434.5L108.45 428.5M101.15 428.5L107.45 434.5M101.15 434.5L107.45 428.5M100.15 428.5L106.45 434.5M100.15 434.5L106.45 428.5M99.15 428.5L105.45 434.5M99.15 434.5L105.45 428.5M98.15 428.5L104.45 434.5M98.15 434.5L104.45 428.5M97.15 428.5L103.45 434.5M97.15 434.5L103.45 428.5M96.15 428.5L102.45 434.5M96.15 434.5L102.45 428.5M95.15 428.5L101.45 434.5M95.15 434.5L101.45 428.5M94.15 428.5L100.45 434.5M94.15 434.5L100.45 428.5M93.15 428.5L99.45 434.5M93.15 434.5L99.45 428.5M92.15 428.5L98.45 434.5M92.15 434.5L98.45 428.5M91.15 428.5L97.45 434.5M91.15 434.5L97.45 428.5M90.15 428.5L96.45 434.5M90.15 434.5L96.45 428.5M89.15 428.5L95.45 434.5M89.15 434.5L95.45 428.5M88.15 428.5L94.45 434.5M88.15 434.5L94.45 428.5M87.15 428.5L93.45 434.5M87.15 434.5L93.45 428.5M86.15 428.5L92.45 434.5M86.15 434.5L92.45 428.5M85.15 428.5L91.45 434.5M85.15 434.5L91.45 428.5M84.15 428.5L90.45 434.5M84.15 434.5L90.45 428.5M83.15 428.5L89.45 434.5M83.15 434.5L89.45 428.5M82.15 428.5L88.45 434.5M82.15 434.5L88.45 428.5M81.15 428.5L87.45 434.5M81.15 434.5L87.45 428.5M80.15 428.5L86.45 434.5M80.15 434.5L86.45 428.5M79.15 428.5L85.45 434.5M79.15 434.5L85.45 428.5M78.15 428.5L84.45 434.5M78.15 434.5L84.45 428.5M77.15 428.5L83.45 434.5M77.15 434.5L83.45 428.5M76.15 428.5L82.45 434.5M76.15 434.5L82.45 428.5M75.15 428.5L81.45 434.5M75.15 434.5L81.45 428.5M74.15 428.5L80.45 434.5M74.15 434.5L80.45 428.5M73.15 428.5L79.45 434.5M73.15 434.5L79.45 428.5M72.15 428.5L78.45 434.5M72.15 434.5L78.45 428.5M71.15 428.5L77.45 434.5M71.15 434.5L77.45 428.5M70.15 428.5L76.45 434.5M70.15 434.5L76.45 428.5M69.15 428.5L75.45 434.5M69.15 434.5L75.45 428.5" stroke="#ff0000" stroke-width="1.15" fill="none"/><path d="M113.25 278.81L119.55 284.81M113.25 284.81L119.55 278.81" stroke="#ff0000" stroke-width="1.05" fill="none"/><path d="M113.25 308.7L119.55 314.7M113.25 314.7L119.55 308.7M112 308.7L118.3 314.7M112 314.7L118.3 308.7" stroke="#ff0000" stroke-width="1.2" fill="none"/><path d="M113.25 323.64L119.55 329.64M113.25 329.64L119.55 323.64" stroke="#ff0000" stroke-width="1.05" fill="none"/><path d="M113.25 338.58L119.55 344.58M113.25 344.58L119.55 338.58" stroke="#ff0000" stroke-width="1.05" fill="none"/><path d="M113.25 368.46L119.55 374.46M113.25 374.46L119.55 368.46M112.05 368.46L118.35 374.46M112.05 374.46L118.35 368.46M110.85 368.46L117.15 374.46M110.85 374.46L117.15 368.46" stroke="#ff0000" stroke-width="1.2" fill="none"/><path d="M121 274.3L121.8 274.3C122.08 276.12 122.93 281.15 123.5 285.2C124.07 289.25 124.5 294.12 125.2 298.6C125.9 303.08 127.15 308.18 127.7 312.1C128.25 316.02 128.5 319.03 128.5 322.1C128.5 325.17 128.25 327.13 127.7 330.5C127.15 333.87 125.77 338.93 125.2 342.3C124.63 345.67 124.17 347.62 124.3 350.7C124.43 353.78 125.52 357.45 126 360.8C126.48 364.15 127.05 368.15 127.2 370.8C127.35 373.45 127.3 374.03 126.9 376.7C126.5 379.37 125.5 383.43 124.8 386.8C124.1 390.17 122.92 394.1 122.7 396.9C122.48 399.7 122.67 401.52 123.5 403.6C124.33 405.68 125.18 407.45 127.7 409.4C130.22 411.35 133.98 413.47 138.6 415.3C143.22 417.13 149.52 418.58 155.4 420.4C161.28 422.22 167.75 424.38 173.9 426.2C180.05 428.02 187.27 429.9 192.3 431.3C197.33 432.7 201.15 433.48 204.1 434.6C207.05 435.72 209.3 436.88 210 438C210.7 439.12 210.13 440.05 208.3 441.3C206.47 442.55 203.07 444.1 199 445.5C194.93 446.9 189.2 448.43 183.9 449.7C178.6 450.97 169.98 452.53 167.2 453.1L121 453.4Z" fill="url(#vg)" stroke="#111" stroke-width="1.12" stroke-dasharray="6 3" stroke-linejoin="round"/><path d="M134.55 382.6V462.3" stroke="#f51414" stroke-width="1.15" stroke-dasharray="6.4 4.1" fill="none"/><circle cx="134.4" cy="421.9" r="3.55" fill="url(#ball)"/><text class="an" x="138.3" y="386">38.18</text><text class="an" x="137.8" y="466.2">-15.29</text><text class="tt" x="110.8" y="500.6">In<tspan class="sb" dx="0.3" dy="4.3">4</tspan></text></g>
<g><rect x="259.9" y="259.6" width="187.2" height="223.7" fill="url(#bg)"/><path d="M260.35 259.6V483.3" fill="none" stroke="#000" stroke-opacity="0.42" stroke-width="1.2"/><path d="M259.7 483.15H447.1" fill="none" stroke="#000" stroke-opacity="0.45" stroke-width="1.3"/><text class="tk" x="254.5" y="468.2">200</text><text class="tk" x="254.5" y="430.88">300</text><text class="tk" x="254.5" y="393.56">400</text><text class="tk" x="254.5" y="356.24">500</text><text class="tk" x="254.5" y="318.92">600</text><text class="tk" x="254.5" y="281.6">700</text><path d="M258.2 464.8H259.9M258.2 427.48H259.9M258.2 390.16H259.9M258.2 352.84H259.9M258.2 315.52H259.9M258.2 278.2H259.9M258.8 446.14H259.9M258.8 408.82H259.9M258.8 371.5H259.9M258.8 334.18H259.9M258.8 296.86H259.9M353.4 483.3V485.2" stroke="#333" stroke-width="0.8" fill="none"/><path d="M347.65 284.93L353.95 290.93M347.65 290.93L353.95 284.93M346.65 284.93L352.95 290.93M346.65 290.93L352.95 284.93M345.65 284.93L351.95 290.93M345.65 290.93L351.95 284.93M344.65 284.93L350.95 290.93M344.65 290.93L350.95 284.93M343.65 284.93L349.95 290.93M343.65 290.93L349.95 284.93M342.65 284.93L348.95 290.93M342.65 290.93L348.95 284.93M341.65 284.93L347.95 290.93M341.65 290.93L347.95 284.93M340.65 284.93L346.95 290.93M340.65 290.93L346.95 284.93M339.65 284.93L345.95 290.93M339.65 290.93L345.95 284.93M338.65 284.93L344.95 290.93M338.65 290.93L344.95 284.93M337.65 284.93L343.95 290.93M337.65 290.93L343.95 284.93M336.65 284.93L342.95 290.93M336.65 290.93L342.95 284.93M335.65 284.93L341.95 290.93M335.65 290.93L341.95 284.93M334.65 284.93L340.95 290.93M334.65 290.93L340.95 284.93M333.65 284.93L339.95 290.93M333.65 290.93L339.95 284.93" stroke="#ff0000" stroke-width="1.15" fill="none"/><path d="M347.65 322.25L353.95 328.25M347.65 328.25L353.95 322.25M346.65 322.25L352.95 328.25M346.65 328.25L352.95 322.25M345.65 322.25L351.95 328.25M345.65 328.25L351.95 322.25M344.65 322.25L350.95 328.25M344.65 328.25L350.95 322.25M343.65 322.25L349.95 328.25M343.65 328.25L349.95 322.25M342.65 322.25L348.95 328.25M342.65 328.25L348.95 322.25M341.65 322.25L347.95 328.25M341.65 328.25L347.95 322.25M340.65 322.25L346.95 328.25M340.65 328.25L346.95 322.25M339.65 322.25L345.95 328.25M339.65 328.25L345.95 322.25M338.65 322.25L344.95 328.25M338.65 328.25L344.95 322.25M337.65 322.25L343.95 328.25M337.65 328.25L343.95 322.25M336.65 322.25L342.95 328.25M336.65 328.25L342.95 322.25M335.65 322.25L341.95 328.25M335.65 328.25L341.95 322.25M334.65 322.25L340.95 328.25M334.65 328.25L340.95 322.25M333.65 322.25L339.95 328.25M333.65 328.25L339.95 322.25M332.65 322.25L338.95 328.25M332.65 328.25L338.95 322.25M331.65 322.25L337.95 328.25M331.65 328.25L337.95 322.25M330.65 322.25L336.95 328.25M330.65 328.25L336.95 322.25M329.65 322.25L335.95 328.25M329.65 328.25L335.95 322.25M328.65 322.25L334.95 328.25M328.65 328.25L334.95 322.25M327.65 322.25L333.95 328.25M327.65 328.25L333.95 322.25M326.65 322.25L332.95 328.25M326.65 328.25L332.95 322.25M325.65 322.25L331.95 328.25M325.65 328.25L331.95 322.25M324.65 322.25L330.95 328.25M324.65 328.25L330.95 322.25M323.65 322.25L329.95 328.25M323.65 328.25L329.95 322.25M322.65 322.25L328.95 328.25M322.65 328.25L328.95 322.25M321.65 322.25L327.95 328.25M321.65 328.25L327.95 322.25M320.65 322.25L326.95 328.25M320.65 328.25L326.95 322.25M319.65 322.25L325.95 328.25M319.65 328.25L325.95 322.25M318.65 322.25L324.95 328.25M318.65 328.25L324.95 322.25M317.65 322.25L323.95 328.25M317.65 328.25L323.95 322.25M316.65 322.25L322.95 328.25M316.65 328.25L322.95 322.25M315.65 322.25L321.95 328.25M315.65 328.25L321.95 322.25M314.65 322.25L320.95 328.25M314.65 328.25L320.95 322.25M313.65 322.25L319.95 328.25M313.65 328.25L319.95 322.25M312.65 322.25L318.95 328.25M312.65 328.25L318.95 322.25M311.65 322.25L317.95 328.25M311.65 328.25L317.95 322.25M310.65 322.25L316.95 328.25M310.65 328.25L316.95 322.25M309.65 322.25L315.95 328.25M309.65 328.25L315.95 322.25M308.65 322.25L314.95 328.25M308.65 328.25L314.95 322.25M307.65 322.25L313.95 328.25M307.65 328.25L313.95 322.25M306.65 322.25L312.95 328.25M306.65 328.25L312.95 322.25M305.65 322.25L311.95 328.25M305.65 328.25L311.95 322.25" stroke="#ff0000" stroke-width="1.15" fill="none"/><path d="M347.65 359.57L353.95 365.57M347.65 365.57L353.95 359.57M346.65 359.57L352.95 365.57M346.65 365.57L352.95 359.57M345.65 359.57L351.95 365.57M345.65 365.57L351.95 359.57M344.65 359.57L350.95 365.57M344.65 365.57L350.95 359.57M343.65 359.57L349.95 365.57M343.65 365.57L349.95 359.57M342.65 359.57L348.95 365.57M342.65 365.57L348.95 359.57M341.65 359.57L347.95 365.57M341.65 365.57L347.95 359.57M340.65 359.57L346.95 365.57M340.65 365.57L346.95 359.57M339.65 359.57L345.95 365.57M339.65 365.57L345.95 359.57M338.65 359.57L344.95 365.57M338.65 365.57L344.95 359.57M337.65 359.57L343.95 365.57M337.65 365.57L343.95 359.57M336.65 359.57L342.95 365.57M336.65 365.57L342.95 359.57M335.65 359.57L341.95 365.57M335.65 365.57L341.95 359.57M334.65 359.57L340.95 365.57M334.65 365.57L340.95 359.57M333.65 359.57L339.95 365.57M333.65 365.57L339.95 359.57" stroke="#ff0000" stroke-width="1.15" fill="none"/><path d="M347.65 396.89L353.95 402.89M347.65 402.89L353.95 396.89M346.65 396.89L352.95 402.89M346.65 402.89L352.95 396.89M345.65 396.89L351.95 402.89M345.65 402.89L351.95 396.89M344.65 396.89L350.95 402.89M344.65 402.89L350.95 396.89M343.65 396.89L349.95 402.89M343.65 402.89L349.95 396.89M342.65 396.89L348.95 402.89M342.65 402.89L348.95 396.89M341.65 396.89L347.95 402.89M341.65 402.89L347.95 396.89M340.65 396.89L346.95 402.89M340.65 402.89L346.95 396.89M339.65 396.89L345.95 402.89M339.65 402.89L345.95 396.89M338.65 396.89L344.95 402.89M338.65 402.89L344.95 396.89M337.65 396.89L343.95 402.89M337.65 402.89L343.95 396.89" stroke="#ff0000" stroke-width="1.15" fill="none"/><path d="M347.65 415.55L353.95 421.55M347.65 421.55L353.95 415.55M346.65 415.55L352.95 421.55M346.65 421.55L352.95 415.55M345.65 415.55L351.95 421.55M345.65 421.55L351.95 415.55M344.65 415.55L350.95 421.55M344.65 421.55L350.95 415.55M343.65 415.55L349.95 421.55M343.65 421.55L349.95 415.55M342.65 415.55L348.95 421.55M342.65 421.55L348.95 415.55M341.65 415.55L347.95 421.55M341.65 421.55L347.95 415.55M340.65 415.55L346.95 421.55M340.65 421.55L346.95 415.55M339.65 415.55L345.95 421.55M339.65 421.55L345.95 415.55M338.65 415.55L344.95 421.55M338.65 421.55L344.95 415.55M337.65 415.55L343.95 421.55M337.65 421.55L343.95 415.55" stroke="#ff0000" stroke-width="1.15" fill="none"/><path d="M347.65 434.21L353.95 440.21M347.65 440.21L353.95 434.21M346.65 434.21L352.95 440.21M346.65 440.21L352.95 434.21M345.65 434.21L351.95 440.21M345.65 440.21L351.95 434.21M344.65 434.21L350.95 440.21M344.65 440.21L350.95 434.21M343.65 434.21L349.95 440.21M343.65 440.21L349.95 434.21M342.65 434.21L348.95 440.21M342.65 440.21L348.95 434.21M341.65 434.21L347.95 440.21M341.65 440.21L347.95 434.21M340.65 434.21L346.95 440.21M340.65 440.21L346.95 434.21M339.65 434.21L345.95 440.21M339.65 440.21L345.95 434.21M338.65 434.21L344.95 440.21M338.65 440.21L344.95 434.21M337.65 434.21L343.95 440.21M337.65 440.21L343.95 434.21" stroke="#ff0000" stroke-width="1.15" fill="none"/><path d="M347.65 452.87L353.95 458.87M347.65 458.87L353.95 452.87M346.65 452.87L352.95 458.87M346.65 458.87L352.95 452.87M345.65 452.87L351.95 458.87M345.65 458.87L351.95 452.87M344.65 452.87L350.95 458.87M344.65 458.87L350.95 452.87M343.65 452.87L349.95 458.87M343.65 458.87L349.95 452.87M342.65 452.87L348.95 458.87M342.65 458.87L348.95 452.87M341.65 452.87L347.95 458.87M341.65 458.87L347.95 452.87M340.65 452.87L346.95 458.87M340.65 458.87L346.95 452.87M339.65 452.87L345.95 458.87M339.65 458.87L345.95 452.87M338.65 452.87L344.95 458.87M338.65 458.87L344.95 452.87M337.65 452.87L343.95 458.87M337.65 458.87L343.95 452.87" stroke="#ff0000" stroke-width="1.15" fill="none"/><path d="M355.9 278.6L380.3 278.6C380.92 279.35 383.17 280.82 384 283.1C384.83 285.38 384.8 289.22 385.3 292.3C385.8 295.38 385.6 298.8 387 301.6C388.4 304.4 390.35 306.58 393.7 309.1C397.05 311.62 402.07 314.18 407.1 316.7C412.13 319.22 418.85 321.83 423.9 324.2C428.95 326.57 433.98 328.65 437.4 330.9C440.82 333.15 443.85 335.32 444.4 337.7C444.95 340.08 443.55 342.68 440.7 345.2C437.85 347.72 432.33 350.28 427.3 352.8C422.27 355.32 415.82 357.78 410.5 360.3C405.18 362.82 399.32 365.52 395.4 367.9C391.48 370.28 389.07 372.43 387 374.6C384.93 376.77 383.83 379.03 383 380.9C382.17 382.77 381.9 383.92 382 385.8C382.1 387.68 382.2 389.17 383.6 392.2C385 395.23 388.15 399.8 390.4 404C392.65 408.2 395.02 413.2 397.1 417.4C399.18 421.6 401.57 425.57 402.9 429.2C404.23 432.83 405.23 436.13 405.1 439.2C404.97 442.27 404 444.8 402.1 447.6C400.2 450.4 396.47 453.43 393.7 456C390.93 458.57 387.53 461.52 385.5 463C383.47 464.48 382.17 464.58 381.5 464.9L355.9 465Z" fill="url(#vg)" stroke="#111" stroke-width="1.12" stroke-dasharray="6 3" stroke-linejoin="round"/><path d="M369.55 312.9V422.9" stroke="#f51414" stroke-width="1.15" stroke-dasharray="6.4 4.1" fill="none"/><circle cx="369.4" cy="368" r="3.55" fill="url(#ball)"/><text class="an" x="372.7" y="318.1">605.3</text><text class="an" x="372.7" y="426.7">314.8</text><text class="tt" x="345.7" y="500.6">In<tspan class="sb" dx="0.3" dy="4.3">5</tspan></text></g>
<g><rect x="494.6" y="259.6" width="187.5" height="223.7" fill="url(#bg)"/><path d="M495.05 259.6V483.3" fill="none" stroke="#000" stroke-opacity="0.42" stroke-width="1.2"/><path d="M494.4 483.15H682.1" fill="none" stroke="#000" stroke-opacity="0.45" stroke-width="1.3"/><text class="tk" x="489.2" y="486.6">140</text><text class="tk" x="489.2" y="461.74">150</text><text class="tk" x="489.2" y="436.89">160</text><text class="tk" x="489.2" y="412.03">170</text><text class="tk" x="489.2" y="387.18">180</text><text class="tk" x="489.2" y="362.32">190</text><text class="tk" x="489.2" y="337.47">200</text><text class="tk" x="489.2" y="312.61">210</text><text class="tk" x="489.2" y="287.76">220</text><text class="tk" x="489.2" y="262.9">230</text><path d="M492.9 458.44H494.6M492.9 433.59H494.6M492.9 408.73H494.6M492.9 383.88H494.6M492.9 359.02H494.6M492.9 334.17H494.6M492.9 309.31H494.6M492.9 284.46H494.6M493.5 470.87H494.6M493.5 446.02H494.6M493.5 421.16H494.6M493.5 396.31H494.6M493.5 371.45H494.6M493.5 346.59H494.6M493.5 321.74H494.6M493.5 296.88H494.6M493.5 272.03H494.6M589 483.3V485.2" stroke="#333" stroke-width="0.8" fill="none"/><path d="M582.15 393.7L588.45 399.7M582.15 399.7L588.45 393.7M581.15 393.7L587.45 399.7M581.15 399.7L587.45 393.7M580.15 393.7L586.45 399.7M580.15 399.7L586.45 393.7M579.15 393.7L585.45 399.7M579.15 399.7L585.45 393.7M578.15 393.7L584.45 399.7M578.15 399.7L584.45 393.7M577.15 393.7L583.45 399.7M577.15 399.7L583.45 393.7M576.15 393.7L582.45 399.7M576.15 399.7L582.45 393.7M575.15 393.7L581.45 399.7M575.15 399.7L581.45 393.7M574.15 393.7L580.45 399.7M574.15 399.7L580.45 393.7M573.15 393.7L579.45 399.7M573.15 399.7L579.45 393.7M572.15 393.7L578.45 399.7M572.15 399.7L578.45 393.7M571.15 393.7L577.45 399.7M571.15 399.7L577.45 393.7M570.15 393.7L576.45 399.7M570.15 399.7L576.45 393.7M569.15 393.7L575.45 399.7M569.15 399.7L575.45 393.7M568.15 393.7L574.45 399.7M568.15 399.7L574.45 393.7M567.15 393.7L573.45 399.7M567.15 399.7L573.45 393.7M566.15 393.7L572.45 399.7M566.15 399.7L572.45 393.7M565.15 393.7L571.45 399.7M565.15 399.7L571.45 393.7M564.15 393.7L570.45 399.7M564.15 399.7L570.45 393.7M563.15 393.7L569.45 399.7M563.15 399.7L569.45 393.7M562.15 393.7L568.45 399.7M562.15 399.7L568.45 393.7M561.15 393.7L567.45 399.7M561.15 399.7L567.45 393.7M560.15 393.7L566.45 399.7M560.15 399.7L566.45 393.7M559.15 393.7L565.45 399.7M559.15 399.7L565.45 393.7M558.15 393.7L564.45 399.7M558.15 399.7L564.45 393.7M557.15 393.7L563.45 399.7M557.15 399.7L563.45 393.7M556.15 393.7L562.45 399.7M556.15 399.7L562.45 393.7M555.15 393.7L561.45 399.7M555.15 399.7L561.45 393.7M554.15 393.7L560.45 399.7M554.15 399.7L560.45 393.7M553.15 393.7L559.45 399.7M553.15 399.7L559.45 393.7M552.15 393.7L558.45 399.7M552.15 399.7L558.45 393.7M551.15 393.7L557.45 399.7M551.15 399.7L557.45 393.7M550.15 393.7L556.45 399.7M550.15 399.7L556.45 393.7M549.15 393.7L555.45 399.7M549.15 399.7L555.45 393.7M548.15 393.7L554.45 399.7M548.15 399.7L554.45 393.7M547.15 393.7L553.45 399.7M547.15 399.7L553.45 393.7M546.15 393.7L552.45 399.7M546.15 399.7L552.45 393.7M545.15 393.7L551.45 399.7M545.15 399.7L551.45 393.7M544.15 393.7L550.45 399.7M544.15 399.7L550.45 393.7M543.15 393.7L549.45 399.7M543.15 399.7L549.45 393.7M542.15 393.7L548.45 399.7M542.15 399.7L548.45 393.7M541.15 393.7L547.45 399.7M541.15 399.7L547.45 393.7M540.15 393.7L546.45 399.7M540.15 399.7L546.45 393.7M539.15 393.7L545.45 399.7M539.15 399.7L545.45 393.7" stroke="#ff0000" stroke-width="1.15" fill="none"/><path d="M581.75 269.03L588.05 275.03M581.75 275.03L588.05 269.03M580.5 269.03L586.8 275.03M580.5 275.03L586.8 269.03" stroke="#ff0000" stroke-width="1.2" fill="none"/><path d="M581.75 343.59L588.05 349.59M581.75 349.59L588.05 343.59M580.5 343.59L586.8 349.59M580.5 349.59L586.8 343.59" stroke="#ff0000" stroke-width="1.2" fill="none"/><path d="M581.75 418.2L588.05 424.2M581.75 424.2L588.05 418.2M580.55 418.2L586.85 424.2M580.55 424.2L586.85 418.2M579.35 418.2L585.65 424.2M579.35 424.2L585.65 418.2" stroke="#ff0000" stroke-width="1.2" fill="none"/><path d="M581.75 443.4L588.05 449.4M581.75 449.4L588.05 443.4M580.5 443.4L586.8 449.4M580.5 449.4L586.8 443.4" stroke="#ff0000" stroke-width="1.2" fill="none"/><path d="M581.75 468.2L588.05 474.2M581.75 474.2L588.05 468.2M580.55 468.2L586.85 474.2M580.55 474.2L586.85 468.2M579.35 468.2L585.65 474.2M579.35 474.2L585.65 468.2M578.15 468.2L584.45 474.2M578.15 474.2L584.45 468.2" stroke="#ff0000" stroke-width="1.2" fill="none"/><path d="M591 259.7L594.3 270.1C594.67 271.78 596.5 276.57 596.5 280.2C596.5 283.83 595.13 287.98 594.3 291.9C593.47 295.82 592.05 300.05 591.5 303.7C590.95 307.35 590.8 310.45 591 313.8C591.2 317.15 591.95 320.17 592.7 323.8C593.45 327.43 595.08 331.97 595.5 335.6C595.92 339.23 595.67 342.25 595.2 345.6C594.73 348.95 593.4 352.62 592.7 355.7C592 358.78 591.28 361.15 591 364.1C590.72 367.05 590.45 370.73 591 373.4C591.55 376.07 592.2 378.02 594.3 380.1C596.4 382.18 599.25 383.95 603.6 385.9C607.95 387.85 614.25 389.97 620.4 391.8C626.55 393.63 633.78 395.22 640.5 396.9C647.22 398.58 655.28 400.55 660.7 401.9C666.12 403.25 670.05 404.17 673 405C675.95 405.83 677.23 406.28 678.4 406.9C679.57 407.52 680 408.08 680 408.7C680 409.32 679.57 409.87 678.4 410.6C677.23 411.33 676.52 411.75 673 413.1C669.48 414.45 663.27 416.93 657.3 418.7C651.33 420.47 643.63 422.17 637.2 423.7C630.77 425.23 623.75 426.5 618.7 427.9C613.65 429.3 609.83 430.28 606.9 432.1C603.97 433.92 602.22 436.28 601.1 438.8C599.98 441.32 600.07 443.83 600.2 447.2C600.33 450.57 601.75 455.37 601.9 459C602.05 462.63 601.93 465.65 601.1 469C600.27 472.35 597.6 477.42 596.9 479.1L591 483.3Z" fill="url(#vg)" stroke="#111" stroke-width="1.12" stroke-dasharray="6 3" stroke-linejoin="round"/><path d="M604.25 374.5V443.9" stroke="#f51414" stroke-width="1.15" stroke-dasharray="6.4 4.1" fill="none"/><circle cx="604.1" cy="408" r="3.55" fill="url(#ball)"/><text class="an" x="608.6" y="376.2">184.6</text><text class="an" x="608.6" y="447.2">156.3</text><text class="tt" x="580.6" y="500.6">In<tspan class="sb" dx="0.3" dy="4.3">6</tspan></text></g>
<g><rect x="25.1" y="520.2" width="187.4" height="224.5" fill="url(#bg)"/><path d="M25.55 520.2V744.7" fill="none" stroke="#000" stroke-opacity="0.42" stroke-width="1.2"/><path d="M24.9 744.55H212.5" fill="none" stroke="#000" stroke-opacity="0.45" stroke-width="1.3"/><text class="tk" x="19.7" y="747.1">0.1</text><text class="tk" x="19.7" y="719.1">0.2</text><text class="tk" x="19.7" y="691.1">0.3</text><text class="tk" x="19.7" y="663.1">0.4</text><text class="tk" x="19.7" y="635.1">0.5</text><text class="tk" x="19.7" y="607.1">0.6</text><text class="tk" x="19.7" y="579.1">0.7</text><text class="tk" x="19.7" y="551.1">0.8</text><text class="tk" x="19.7" y="523.1">0.9</text><path d="M23.4 716.3H25.1M23.4 688.3H25.1M23.4 660.3H25.1M23.4 632.3H25.1M23.4 604.3H25.1M23.4 576.3H25.1M23.4 548.3H25.1M24 730.3H25.1M24 702.3H25.1M24 674.3H25.1M24 646.3H25.1M24 618.3H25.1M24 590.3H25.1M24 562.3H25.1M24 534.3H25.1M119 744.7V746.6" stroke="#333" stroke-width="0.8" fill="none"/><path d="M113.15 552.3L119.45 558.3M113.15 558.3L119.45 552.3M112.05 552.3L118.35 558.3M112.05 558.3L118.35 552.3M110.95 552.3L117.25 558.3M110.95 558.3L117.25 552.3M109.85 552.3L116.15 558.3M109.85 558.3L116.15 552.3M108.75 552.3L115.05 558.3M108.75 558.3L115.05 552.3M107.65 552.3L113.95 558.3M107.65 558.3L113.95 552.3M106.55 552.3L112.85 558.3M106.55 558.3L112.85 552.3M105.45 552.3L111.75 558.3M105.45 558.3L111.75 552.3M104.35 552.3L110.65 558.3M104.35 558.3L110.65 552.3M103.25 552.3L109.55 558.3M103.25 558.3L109.55 552.3M102.15 552.3L108.45 558.3M102.15 558.3L108.45 552.3M101.05 552.3L107.35 558.3M101.05 558.3L107.35 552.3M99.95 552.3L106.25 558.3M99.95 558.3L106.25 552.3" stroke="#ff1420" stroke-opacity="0.95" stroke-width="0.9" fill="none"/><path d="M113.15 580.3L119.45 586.3M113.15 586.3L119.45 580.3M112.05 580.3L118.35 586.3M112.05 586.3L118.35 580.3M110.95 580.3L117.25 586.3M110.95 586.3L117.25 580.3M109.85 580.3L116.15 586.3M109.85 586.3L116.15 580.3M108.75 580.3L115.05 586.3M108.75 586.3L115.05 580.3M107.65 580.3L113.95 586.3M107.65 586.3L113.95 580.3M106.55 580.3L112.85 586.3M106.55 586.3L112.85 580.3M105.45 580.3L111.75 586.3M105.45 586.3L111.75 580.3M104.35 580.3L110.65 586.3M104.35 586.3L110.65 580.3M103.25 580.3L109.55 586.3M103.25 586.3L109.55 580.3M102.15 580.3L108.45 586.3M102.15 586.3L108.45 580.3M101.05 580.3L107.35 586.3M101.05 586.3L107.35 580.3M99.95 580.3L106.25 586.3M99.95 586.3L106.25 580.3" stroke="#ff1420" stroke-opacity="0.95" stroke-width="0.9" fill="none"/><path d="M113.15 608.3L119.45 614.3M113.15 614.3L119.45 608.3M112.05 608.3L118.35 614.3M112.05 614.3L118.35 608.3M110.95 608.3L117.25 614.3M110.95 614.3L117.25 608.3M109.85 608.3L116.15 614.3M109.85 614.3L116.15 608.3M108.75 608.3L115.05 614.3M108.75 614.3L115.05 608.3M107.65 608.3L113.95 614.3M107.65 614.3L113.95 608.3M106.55 608.3L112.85 614.3M106.55 614.3L112.85 608.3M105.45 608.3L111.75 614.3M105.45 614.3L111.75 608.3M104.35 608.3L110.65 614.3M104.35 614.3L110.65 608.3M103.25 608.3L109.55 614.3M103.25 614.3L109.55 608.3M102.15 608.3L108.45 614.3M102.15 614.3L108.45 608.3M101.05 608.3L107.35 614.3M101.05 614.3L107.35 608.3M99.95 608.3L106.25 614.3M99.95 614.3L106.25 608.3" stroke="#ff1420" stroke-opacity="0.95" stroke-width="0.9" fill="none"/><path d="M113.15 636.3L119.45 642.3M113.15 642.3L119.45 636.3M112.05 636.3L118.35 642.3M112.05 642.3L118.35 636.3M110.95 636.3L117.25 642.3M110.95 642.3L117.25 636.3M109.85 636.3L116.15 642.3M109.85 642.3L116.15 636.3M108.75 636.3L115.05 642.3M108.75 642.3L115.05 636.3M107.65 636.3L113.95 642.3M107.65 642.3L113.95 636.3M106.55 636.3L112.85 642.3M106.55 642.3L112.85 636.3M105.45 636.3L111.75 642.3M105.45 642.3L111.75 636.3M104.35 636.3L110.65 642.3M104.35 642.3L110.65 636.3M103.25 636.3L109.55 642.3M103.25 642.3L109.55 636.3M102.15 636.3L108.45 642.3M102.15 642.3L108.45 636.3M101.05 636.3L107.35 642.3M101.05 642.3L107.35 636.3M99.95 636.3L106.25 642.3M99.95 642.3L106.25 636.3" stroke="#ff1420" stroke-opacity="0.95" stroke-width="0.9" fill="none"/><path d="M113.15 650.3L119.45 656.3M113.15 656.3L119.45 650.3M112.05 650.3L118.35 656.3M112.05 656.3L118.35 650.3M110.95 650.3L117.25 656.3M110.95 656.3L117.25 650.3M109.85 650.3L116.15 656.3M109.85 656.3L116.15 650.3M108.75 650.3L115.05 656.3M108.75 656.3L115.05 650.3" stroke="#ff1420" stroke-opacity="0.95" stroke-width="0.9" fill="none"/><path d="M113.15 664.3L119.45 670.3M113.15 670.3L119.45 664.3M112.05 664.3L118.35 670.3M112.05 670.3L118.35 664.3M110.95 664.3L117.25 670.3M110.95 670.3L117.25 664.3M109.85 664.3L116.15 670.3M109.85 670.3L116.15 664.3M108.75 664.3L115.05 670.3M108.75 670.3L115.05 664.3M107.65 664.3L113.95 670.3M107.65 670.3L113.95 664.3M106.55 664.3L112.85 670.3M106.55 670.3L112.85 664.3M105.45 664.3L111.75 670.3M105.45 670.3L111.75 664.3M104.35 664.3L110.65 670.3M104.35 670.3L110.65 664.3M103.25 664.3L109.55 670.3M103.25 670.3L109.55 664.3M102.15 664.3L108.45 670.3M102.15 670.3L108.45 664.3M101.05 664.3L107.35 670.3M101.05 670.3L107.35 664.3M99.95 664.3L106.25 670.3M99.95 670.3L106.25 664.3M98.85 664.3L105.15 670.3M98.85 670.3L105.15 664.3M97.75 664.3L104.05 670.3M97.75 670.3L104.05 664.3M96.65 664.3L102.95 670.3M96.65 670.3L102.95 664.3M95.55 664.3L101.85 670.3M95.55 670.3L101.85 664.3M94.45 664.3L100.75 670.3M94.45 670.3L100.75 664.3M93.35 664.3L99.65 670.3M93.35 670.3L99.65 664.3M92.25 664.3L98.55 670.3M92.25 670.3L98.55 664.3M91.15 664.3L97.45 670.3M91.15 670.3L97.45 664.3M90.05 664.3L96.35 670.3M90.05 670.3L96.35 664.3M88.95 664.3L95.25 670.3M88.95 670.3L95.25 664.3M87.85 664.3L94.15 670.3M87.85 670.3L94.15 664.3" stroke="#ff1420" stroke-opacity="0.95" stroke-width="0.9" fill="none"/><path d="M113.15 678.3L119.45 684.3M113.15 684.3L119.45 678.3M112.05 678.3L118.35 684.3M112.05 684.3L118.35 678.3M110.95 678.3L117.25 684.3M110.95 684.3L117.25 678.3M109.85 678.3L116.15 684.3M109.85 684.3L116.15 678.3M108.75 678.3L115.05 684.3M108.75 684.3L115.05 678.3M107.65 678.3L113.95 684.3M107.65 684.3L113.95 678.3M106.55 678.3L112.85 684.3M106.55 684.3L112.85 678.3M105.45 678.3L111.75 684.3M105.45 684.3L111.75 678.3M104.35 678.3L110.65 684.3M104.35 684.3L110.65 678.3M103.25 678.3L109.55 684.3M103.25 684.3L109.55 678.3M102.15 678.3L108.45 684.3M102.15 684.3L108.45 678.3M101.05 678.3L107.35 684.3M101.05 684.3L107.35 678.3M99.95 678.3L106.25 684.3M99.95 684.3L106.25 678.3M98.85 678.3L105.15 684.3M98.85 684.3L105.15 678.3M97.75 678.3L104.05 684.3M97.75 684.3L104.05 678.3M96.65 678.3L102.95 684.3M96.65 684.3L102.95 678.3M95.55 678.3L101.85 684.3M95.55 684.3L101.85 678.3" stroke="#ff1420" stroke-opacity="0.95" stroke-width="0.9" fill="none"/><path d="M113.15 692.3L119.45 698.3M113.15 698.3L119.45 692.3M112.05 692.3L118.35 698.3M112.05 698.3L118.35 692.3M110.95 692.3L117.25 698.3M110.95 698.3L117.25 692.3M109.85 692.3L116.15 698.3M109.85 698.3L116.15 692.3M108.75 692.3L115.05 698.3M108.75 698.3L115.05 692.3M107.65 692.3L113.95 698.3M107.65 698.3L113.95 692.3M106.55 692.3L112.85 698.3M106.55 698.3L112.85 692.3M105.45 692.3L111.75 698.3M105.45 698.3L111.75 692.3M104.35 692.3L110.65 698.3M104.35 698.3L110.65 692.3M103.25 692.3L109.55 698.3M103.25 698.3L109.55 692.3M102.15 692.3L108.45 698.3M102.15 698.3L108.45 692.3M101.05 692.3L107.35 698.3M101.05 698.3L107.35 692.3M99.95 692.3L106.25 698.3M99.95 698.3L106.25 692.3M98.85 692.3L105.15 698.3M98.85 698.3L105.15 692.3M97.75 692.3L104.05 698.3M97.75 698.3L104.05 692.3M96.65 692.3L102.95 698.3M96.65 698.3L102.95 692.3M95.55 692.3L101.85 698.3M95.55 698.3L101.85 692.3M94.45 692.3L100.75 698.3M94.45 698.3L100.75 692.3M93.35 692.3L99.65 698.3M93.35 698.3L99.65 692.3M92.25 692.3L98.55 698.3M92.25 698.3L98.55 692.3M91.15 692.3L97.45 698.3M91.15 698.3L97.45 692.3M90.05 692.3L96.35 698.3M90.05 698.3L96.35 692.3M88.95 692.3L95.25 698.3M88.95 698.3L95.25 692.3M87.85 692.3L94.15 698.3M87.85 698.3L94.15 692.3M86.75 692.3L93.05 698.3M86.75 698.3L93.05 692.3M85.65 692.3L91.95 698.3M85.65 698.3L91.95 692.3M84.55 692.3L90.85 698.3M84.55 698.3L90.85 692.3M83.45 692.3L89.75 698.3M83.45 698.3L89.75 692.3M82.35 692.3L88.65 698.3M82.35 698.3L88.65 692.3M81.25 692.3L87.55 698.3M81.25 698.3L87.55 692.3M80.15 692.3L86.45 698.3M80.15 698.3L86.45 692.3M79.05 692.3L85.35 698.3M79.05 698.3L85.35 692.3M77.95 692.3L84.25 698.3M77.95 698.3L84.25 692.3M76.85 692.3L83.15 698.3M76.85 698.3L83.15 692.3M75.75 692.3L82.05 698.3M75.75 698.3L82.05 692.3M74.65 692.3L80.95 698.3M74.65 698.3L80.95 692.3M73.55 692.3L79.85 698.3M73.55 698.3L79.85 692.3M72.45 692.3L78.75 698.3M72.45 698.3L78.75 692.3M71.35 692.3L77.65 698.3M71.35 698.3L77.65 692.3M70.25 692.3L76.55 698.3M70.25 698.3L76.55 692.3" stroke="#ff1420" stroke-opacity="0.95" stroke-width="0.9" fill="none"/><path d="M121 534.3L124.3 534.8C125.28 536.53 127.82 541.93 130.2 545.2C132.58 548.47 136.37 551.6 138.6 554.4C140.83 557.2 142.48 559.05 143.6 562C144.72 564.95 144.95 568.18 145.3 572.1C145.65 576.02 145.63 581.03 145.7 585.5C145.77 589.97 145.7 593.87 145.7 598.9C145.7 603.93 145.62 611.22 145.7 615.7C145.78 620.18 145.82 623.08 146.2 625.8C146.58 628.52 147.28 630.1 148 632C148.72 633.9 149.57 635.5 150.5 637.2C151.43 638.9 152.47 640.58 153.6 642.2C154.73 643.82 155.03 644.45 157.3 646.9C159.57 649.35 163.32 653.83 167.2 656.9C171.08 659.97 176.13 662.65 180.6 665.3C185.07 667.95 190.08 670.43 194 672.8C197.92 675.17 201.58 677.4 204.1 679.5C206.62 681.6 208.12 683.72 209.1 685.4C210.08 687.08 210.55 687.78 210 689.6C209.45 691.42 208.47 694.2 205.8 696.3C203.13 698.4 199.05 700.23 194 702.2C188.95 704.17 180.82 706.28 175.5 708.1C170.18 709.92 165.73 711.78 162.1 713.1C158.47 714.42 155.1 715.52 153.7 716L121 716.3Z" fill="url(#vg)" stroke="#111" stroke-width="1.12" stroke-dasharray="6 3" stroke-linejoin="round"/><path d="M134.55 611.5V701.3" stroke="#f51414" stroke-width="1.15" stroke-dasharray="6.4 4.1" fill="none"/><circle cx="134.4" cy="655.4" r="3.55" fill="url(#ball)"/><text class="an" x="138.3" y="612.9">0.5816</text><text class="an" x="138.3" y="704.7">0.2536</text><text class="tt" x="111.6" y="760.75">In<tspan class="sb" dx="0.3" dy="4.3">7</tspan></text></g>
<g><rect x="259.7" y="520.2" width="187.4" height="224.5" fill="url(#bg)"/><path d="M260.15 520.2V744.7" fill="none" stroke="#000" stroke-opacity="0.42" stroke-width="1.2"/><path d="M259.5 744.55H447.1" fill="none" stroke="#000" stroke-opacity="0.45" stroke-width="1.3"/><text class="tk" x="254.3" y="747.9">-1</text><text class="tk" x="254.3" y="723.01">0</text><text class="tk" x="254.3" y="698.12">1</text><text class="tk" x="254.3" y="673.23">2</text><text class="tk" x="254.3" y="648.34">3</text><text class="tk" x="254.3" y="623.46">4</text><text class="tk" x="254.3" y="598.57">5</text><text class="tk" x="254.3" y="573.68">6</text><text class="tk" x="254.3" y="548.79">7</text><text class="tk" x="254.3" y="523.9">8</text><path d="M258 719.41H259.7M258 694.52H259.7M258 669.63H259.7M258 644.74H259.7M258 619.86H259.7M258 594.97H259.7M258 570.08H259.7M258 545.19H259.7M258.6 731.86H259.7M258.6 706.97H259.7M258.6 682.08H259.7M258.6 657.19H259.7M258.6 632.3H259.7M258.6 607.41H259.7M258.6 582.52H259.7M258.6 557.63H259.7M258.6 532.74H259.7M353.4 744.7V746.6" stroke="#333" stroke-width="0.8" fill="none"/><path d="M347.65 548.41L353.95 554.41M347.65 554.41L353.95 548.41M346.55 548.41L352.85 554.41M346.55 554.41L352.85 548.41M345.45 548.41L351.75 554.41M345.45 554.41L351.75 548.41M344.35 548.41L350.65 554.41M344.35 554.41L350.65 548.41M343.25 548.41L349.55 554.41M343.25 554.41L349.55 548.41M342.15 548.41L348.45 554.41M342.15 554.41L348.45 548.41" stroke="#ff1420" stroke-opacity="0.95" stroke-width="0.9" fill="none"/><path d="M347.65 560.86L353.95 566.86M347.65 566.86L353.95 560.86M346.55 560.86L352.85 566.86M346.55 566.86L352.85 560.86M345.45 560.86L351.75 566.86M345.45 566.86L351.75 560.86M344.35 560.86L350.65 566.86M344.35 566.86L350.65 560.86M343.25 560.86L349.55 566.86M343.25 566.86L349.55 560.86M342.15 560.86L348.45 566.86M342.15 566.86L348.45 560.86M341.05 560.86L347.35 566.86M341.05 566.86L347.35 560.86M339.95 560.86L346.25 566.86M339.95 566.86L346.25 560.86M338.85 560.86L345.15 566.86M338.85 566.86L345.15 560.86M337.75 560.86L344.05 566.86M337.75 566.86L344.05 560.86M336.65 560.86L342.95 566.86M336.65 566.86L342.95 560.86M335.55 560.86L341.85 566.86M335.55 566.86L341.85 560.86M334.45 560.86L340.75 566.86M334.45 566.86L340.75 560.86M333.35 560.86L339.65 566.86M333.35 566.86L339.65 560.86M332.25 560.86L338.55 566.86M332.25 566.86L338.55 560.86M331.15 560.86L337.45 566.86M331.15 566.86L337.45 560.86M330.05 560.86L336.35 566.86M330.05 566.86L336.35 560.86M328.95 560.86L335.25 566.86M328.95 566.86L335.25 560.86M327.85 560.86L334.15 566.86M327.85 566.86L334.15 560.86" stroke="#ff1420" stroke-opacity="0.95" stroke-width="0.9" fill="none"/><path d="M347.65 573.3L353.95 579.3M347.65 579.3L353.95 573.3M346.55 573.3L352.85 579.3M346.55 579.3L352.85 573.3M345.45 573.3L351.75 579.3M345.45 579.3L351.75 573.3M344.35 573.3L350.65 579.3M344.35 579.3L350.65 573.3M343.25 573.3L349.55 579.3M343.25 579.3L349.55 573.3M342.15 573.3L348.45 579.3M342.15 579.3L348.45 573.3" stroke="#ff1420" stroke-opacity="0.95" stroke-width="0.9" fill="none"/><path d="M347.65 610.63L353.95 616.63M347.65 616.63L353.95 610.63M346.55 610.63L352.85 616.63M346.55 616.63L352.85 610.63M345.45 610.63L351.75 616.63M345.45 616.63L351.75 610.63M344.35 610.63L350.65 616.63M344.35 616.63L350.65 610.63M343.25 610.63L349.55 616.63M343.25 616.63L349.55 610.63M342.15 610.63L348.45 616.63M342.15 616.63L348.45 610.63M341.05 610.63L347.35 616.63M341.05 616.63L347.35 610.63M339.95 610.63L346.25 616.63M339.95 616.63L346.25 610.63M338.85 610.63L345.15 616.63M338.85 616.63L345.15 610.63M337.75 610.63L344.05 616.63M337.75 616.63L344.05 610.63M336.65 610.63L342.95 616.63M336.65 616.63L342.95 610.63M335.55 610.63L341.85 616.63M335.55 616.63L341.85 610.63M334.45 610.63L340.75 616.63M334.45 616.63L340.75 610.63M333.35 610.63L339.65 616.63M333.35 616.63L339.65 610.63M332.25 610.63L338.55 616.63M332.25 616.63L338.55 610.63M331.15 610.63L337.45 616.63M331.15 616.63L337.45 610.63M330.05 610.63L336.35 616.63M330.05 616.63L336.35 610.63M328.95 610.63L335.25 616.63M328.95 616.63L335.25 610.63M327.85 610.63L334.15 616.63M327.85 616.63L334.15 610.63" stroke="#ff1420" stroke-opacity="0.95" stroke-width="0.9" fill="none"/><path d="M347.65 635.52L353.95 641.52M347.65 641.52L353.95 635.52M346.55 635.52L352.85 641.52M346.55 641.52L352.85 635.52M345.45 635.52L351.75 641.52M345.45 641.52L351.75 635.52M344.35 635.52L350.65 641.52M344.35 641.52L350.65 635.52M343.25 635.52L349.55 641.52M343.25 641.52L349.55 635.52M342.15 635.52L348.45 641.52M342.15 641.52L348.45 635.52" stroke="#ff1420" stroke-opacity="0.95" stroke-width="0.9" fill="none"/><path d="M347.65 660.41L353.95 666.41M347.65 666.41L353.95 660.41M346.55 660.41L352.85 666.41M346.55 666.41L352.85 660.41M345.45 660.41L351.75 666.41M345.45 666.41L351.75 660.41M344.35 660.41L350.65 666.41M344.35 666.41L350.65 660.41M343.25 660.41L349.55 666.41M343.25 666.41L349.55 660.41M342.15 660.41L348.45 666.41M342.15 666.41L348.45 660.41M341.05 660.41L347.35 666.41M341.05 666.41L347.35 660.41M339.95 660.41L346.25 666.41M339.95 666.41L346.25 660.41M338.85 660.41L345.15 666.41M338.85 666.41L345.15 660.41M337.75 660.41L344.05 666.41M337.75 666.41L344.05 660.41M336.65 660.41L342.95 666.41M336.65 666.41L342.95 660.41M335.55 660.41L341.85 666.41M335.55 666.41L341.85 660.41M334.45 660.41L340.75 666.41M334.45 666.41L340.75 660.41" stroke="#ff1420" stroke-opacity="0.95" stroke-width="0.9" fill="none"/><path d="M347.65 672.86L353.95 678.86M347.65 678.86L353.95 672.86M346.55 672.86L352.85 678.86M346.55 678.86L352.85 672.86M345.45 672.86L351.75 678.86M345.45 678.86L351.75 672.86M344.35 672.86L350.65 678.86M344.35 678.86L350.65 672.86M343.25 672.86L349.55 678.86M343.25 678.86L349.55 672.86M342.15 672.86L348.45 678.86M342.15 678.86L348.45 672.86M341.05 672.86L347.35 678.86M341.05 678.86L347.35 672.86M339.95 672.86L346.25 678.86M339.95 678.86L346.25 672.86M338.85 672.86L345.15 678.86M338.85 678.86L345.15 672.86M337.75 672.86L344.05 678.86M337.75 678.86L344.05 672.86" stroke="#ff1420" stroke-opacity="0.95" stroke-width="0.9" fill="none"/><path d="M347.65 685.3L353.95 691.3M347.65 691.3L353.95 685.3M346.55 685.3L352.85 691.3M346.55 691.3L352.85 685.3M345.45 685.3L351.75 691.3M345.45 691.3L351.75 685.3M344.35 685.3L350.65 691.3M344.35 691.3L350.65 685.3M343.25 685.3L349.55 691.3M343.25 691.3L349.55 685.3M342.15 685.3L348.45 691.3M342.15 691.3L348.45 685.3M341.05 685.3L347.35 691.3M341.05 691.3L347.35 685.3M339.95 685.3L346.25 691.3M339.95 691.3L346.25 685.3M338.85 685.3L345.15 691.3M338.85 691.3L345.15 685.3M337.75 685.3L344.05 691.3M337.75 691.3L344.05 685.3" stroke="#ff1420" stroke-opacity="0.95" stroke-width="0.9" fill="none"/><path d="M347.65 697.74L353.95 703.74M347.65 703.74L353.95 697.74M346.55 697.74L352.85 703.74M346.55 703.74L352.85 697.74M345.45 697.74L351.75 703.74M345.45 703.74L351.75 697.74M344.35 697.74L350.65 703.74M344.35 703.74L350.65 697.74M343.25 697.74L349.55 703.74M343.25 703.74L349.55 697.74M342.15 697.74L348.45 703.74M342.15 703.74L348.45 697.74M341.05 697.74L347.35 703.74M341.05 703.74L347.35 697.74M339.95 697.74L346.25 703.74M339.95 703.74L346.25 697.74M338.85 697.74L345.15 703.74M338.85 703.74L345.15 697.74M337.75 697.74L344.05 703.74M337.75 703.74L344.05 697.74M336.65 697.74L342.95 703.74M336.65 703.74L342.95 697.74M335.55 697.74L341.85 703.74M335.55 703.74L341.85 697.74M334.45 697.74L340.75 703.74M334.45 703.74L340.75 697.74M333.35 697.74L339.65 703.74M333.35 703.74L339.65 697.74M332.25 697.74L338.55 703.74M332.25 703.74L338.55 697.74M331.15 697.74L337.45 703.74M331.15 703.74L337.45 697.74M330.05 697.74L336.35 703.74M330.05 703.74L336.35 697.74M328.95 697.74L335.25 703.74M328.95 703.74L335.25 697.74M327.85 697.74L334.15 703.74M327.85 703.74L334.15 697.74M326.75 697.74L333.05 703.74M326.75 703.74L333.05 697.74M325.65 697.74L331.95 703.74M325.65 703.74L331.95 697.74M324.55 697.74L330.85 703.74M324.55 703.74L330.85 697.74M323.45 697.74L329.75 703.74M323.45 703.74L329.75 697.74" stroke="#ff1420" stroke-opacity="0.95" stroke-width="0.9" fill="none"/><path d="M347.65 710.19L353.95 716.19M347.65 716.19L353.95 710.19M346.55 710.19L352.85 716.19M346.55 716.19L352.85 710.19M345.45 710.19L351.75 716.19M345.45 716.19L351.75 710.19M344.35 710.19L350.65 716.19M344.35 716.19L350.65 710.19M343.25 710.19L349.55 716.19M343.25 716.19L349.55 710.19M342.15 710.19L348.45 716.19M342.15 716.19L348.45 710.19M341.05 710.19L347.35 716.19M341.05 716.19L347.35 710.19M339.95 710.19L346.25 716.19M339.95 716.19L346.25 710.19M338.85 710.19L345.15 716.19M338.85 716.19L345.15 710.19M337.75 710.19L344.05 716.19M337.75 716.19L344.05 710.19M336.65 710.19L342.95 716.19M336.65 716.19L342.95 710.19M335.55 710.19L341.85 716.19M335.55 716.19L341.85 710.19M334.45 710.19L340.75 716.19M334.45 716.19L340.75 710.19M333.35 710.19L339.65 716.19M333.35 716.19L339.65 710.19M332.25 710.19L338.55 716.19M332.25 716.19L338.55 710.19M331.15 710.19L337.45 716.19M331.15 716.19L337.45 710.19M330.05 710.19L336.35 716.19M330.05 716.19L336.35 710.19M328.95 710.19L335.25 716.19M328.95 716.19L335.25 710.19M327.85 710.19L334.15 716.19M327.85 716.19L334.15 710.19M326.75 710.19L333.05 716.19M326.75 716.19L333.05 710.19M325.65 710.19L331.95 716.19M325.65 716.19L331.95 710.19M324.55 710.19L330.85 716.19M324.55 716.19L330.85 710.19M323.45 710.19L329.75 716.19M323.45 716.19L329.75 710.19M322.35 710.19L328.65 716.19M322.35 716.19L328.65 710.19M321.25 710.19L327.55 716.19M321.25 716.19L327.55 710.19M320.15 710.19L326.45 716.19M320.15 716.19L326.45 710.19M319.05 710.19L325.35 716.19M319.05 716.19L325.35 710.19M317.95 710.19L324.25 716.19M317.95 716.19L324.25 710.19M316.85 710.19L323.15 716.19M316.85 716.19L323.15 710.19M315.75 710.19L322.05 716.19M315.75 716.19L322.05 710.19M314.65 710.19L320.95 716.19M314.65 716.19L320.95 710.19M313.55 710.19L319.85 716.19M313.55 716.19L319.85 710.19M312.45 710.19L318.75 716.19M312.45 716.19L318.75 710.19M311.35 710.19L317.65 716.19M311.35 716.19L317.65 710.19M310.25 710.19L316.55 716.19M310.25 716.19L316.55 710.19M309.15 710.19L315.45 716.19M309.15 716.19L315.45 710.19M308.05 710.19L314.35 716.19M308.05 716.19L314.35 710.19M306.95 710.19L313.25 716.19M306.95 716.19L313.25 710.19M305.85 710.19L312.15 716.19M305.85 716.19L312.15 710.19M304.75 710.19L311.05 716.19M304.75 716.19L311.05 710.19" stroke="#ff1420" stroke-opacity="0.95" stroke-width="0.9" fill="none"/><path d="M355.9 545.2L376.1 545.2C377.35 546.18 380.95 548.87 383.6 551.1C386.25 553.33 389.62 555.95 392 558.6C394.38 561.25 396.77 564.47 397.9 567C399.03 569.53 399.08 570.72 398.8 573.8C398.52 576.88 397.05 581.58 396.2 585.5C395.35 589.42 394.53 593.38 393.7 597.3C392.87 601.22 392.18 605.37 391.2 609C390.22 612.63 389.2 615.73 387.8 619.1C386.4 622.47 383.95 626.63 382.8 629.2C381.65 631.77 381.32 632.87 380.9 634.5C380.48 636.13 380.28 637.62 380.3 639C380.32 640.38 380.55 641.57 381 642.8C381.45 644.03 381.43 644.33 383 646.4C384.57 648.47 387.22 652.05 390.4 655.2C393.58 658.35 397.92 661.8 402.1 665.3C406.28 668.8 410.75 672.57 415.5 676.2C420.25 679.83 426.4 683.75 430.6 687.1C434.8 690.45 438.32 693.5 440.7 696.3C443.08 699.1 444.33 701.52 444.9 703.9C445.47 706.28 445.63 708.08 444.1 710.6C442.57 713.12 439.62 716.48 435.7 719C431.78 721.52 425.92 723.67 420.6 725.7C415.28 727.73 406.6 730.28 403.8 731.2L355.9 731.6Z" fill="url(#vg)" stroke="#111" stroke-width="1.12" stroke-dasharray="6 3" stroke-linejoin="round"/><path d="M369.55 603.1V713.1" stroke="#f51414" stroke-width="1.15" stroke-dasharray="6.4 4.1" fill="none"/><circle cx="369.4" cy="657.1" r="3.55" fill="url(#ball)"/><text class="an" x="372.5" y="603.5">4.81</text><text class="an" x="372.7" y="718.1">0.2024</text><text class="tt" x="345.8" y="760.75">In<tspan class="sb" dx="0.3" dy="4.3">8</tspan></text></g>
<g><rect x="497.1" y="520.2" width="187.1" height="224.5" fill="url(#bg)"/><path d="M497.55 520.2V744.7" fill="none" stroke="#000" stroke-opacity="0.42" stroke-width="1.2"/><path d="M496.9 744.55H684.2" fill="none" stroke="#000" stroke-opacity="0.45" stroke-width="1.3"/><text class="tk" x="491.7" y="747.2">-0.25</text><text class="tk" x="491.7" y="715.2">0.00</text><text class="tk" x="491.7" y="683.2">0.25</text><text class="tk" x="491.7" y="651.2">0.50</text><text class="tk" x="491.7" y="619.2">0.75</text><text class="tk" x="491.7" y="587.2">1.00</text><text class="tk" x="491.7" y="555.2">1.25</text><text class="tk" x="491.7" y="523.2">1.50</text><path d="M495.4 712.3H497.1M495.4 680.3H497.1M495.4 648.3H497.1M495.4 616.3H497.1M495.4 584.3H497.1M495.4 552.3H497.1M496 728.3H497.1M496 696.3H497.1M496 664.3H497.1M496 632.3H497.1M496 600.3H497.1M496 568.3H497.1M496 536.3H497.1M590.6 744.7V746.6" stroke="#333" stroke-width="0.8" fill="none"/><path d="M585.15 568.2L591.45 574.2M585.15 574.2L591.45 568.2M584.15 568.2L590.45 574.2M584.15 574.2L590.45 568.2M583.15 568.2L589.45 574.2M583.15 574.2L589.45 568.2M582.15 568.2L588.45 574.2M582.15 574.2L588.45 568.2M581.15 568.2L587.45 574.2M581.15 574.2L587.45 568.2M580.15 568.2L586.45 574.2M580.15 574.2L586.45 568.2M579.15 568.2L585.45 574.2M579.15 574.2L585.45 568.2M578.15 568.2L584.45 574.2M578.15 574.2L584.45 568.2M577.15 568.2L583.45 574.2M577.15 574.2L583.45 568.2M576.15 568.2L582.45 574.2M576.15 574.2L582.45 568.2M575.15 568.2L581.45 574.2M575.15 574.2L581.45 568.2M574.15 568.2L580.45 574.2M574.15 574.2L580.45 568.2M573.15 568.2L579.45 574.2M573.15 574.2L579.45 568.2M572.15 568.2L578.45 574.2M572.15 574.2L578.45 568.2M571.15 568.2L577.45 574.2M571.15 574.2L577.45 568.2" stroke="#ff0000" stroke-width="1.15" fill="none"/><path d="M585.15 696.2L591.45 702.2M585.15 702.2L591.45 696.2M584.15 696.2L590.45 702.2M584.15 702.2L590.45 696.2M583.15 696.2L589.45 702.2M583.15 702.2L589.45 696.2M582.15 696.2L588.45 702.2M582.15 702.2L588.45 696.2M581.15 696.2L587.45 702.2M581.15 702.2L587.45 696.2M580.15 696.2L586.45 702.2M580.15 702.2L586.45 696.2M579.15 696.2L585.45 702.2M579.15 702.2L585.45 696.2M578.15 696.2L584.45 702.2M578.15 702.2L584.45 696.2M577.15 696.2L583.45 702.2M577.15 702.2L583.45 696.2M576.15 696.2L582.45 702.2M576.15 702.2L582.45 696.2M575.15 696.2L581.45 702.2M575.15 702.2L581.45 696.2M574.15 696.2L580.45 702.2M574.15 702.2L580.45 696.2M573.15 696.2L579.45 702.2M573.15 702.2L579.45 696.2M572.15 696.2L578.45 702.2M572.15 702.2L578.45 696.2M571.15 696.2L577.45 702.2M571.15 702.2L577.45 696.2M570.15 696.2L576.45 702.2M570.15 702.2L576.45 696.2M569.15 696.2L575.45 702.2M569.15 702.2L575.45 696.2M568.15 696.2L574.45 702.2M568.15 702.2L574.45 696.2M567.15 696.2L573.45 702.2M567.15 702.2L573.45 696.2M566.15 696.2L572.45 702.2M566.15 702.2L572.45 696.2M565.15 696.2L571.45 702.2M565.15 702.2L571.45 696.2M564.15 696.2L570.45 702.2M564.15 702.2L570.45 696.2M563.15 696.2L569.45 702.2M563.15 702.2L569.45 696.2M562.15 696.2L568.45 702.2M562.15 702.2L568.45 696.2M561.15 696.2L567.45 702.2M561.15 702.2L567.45 696.2M560.15 696.2L566.45 702.2M560.15 702.2L566.45 696.2M559.15 696.2L565.45 702.2M559.15 702.2L565.45 696.2M558.15 696.2L564.45 702.2M558.15 702.2L564.45 696.2M557.15 696.2L563.45 702.2M557.15 702.2L563.45 696.2M556.15 696.2L562.45 702.2M556.15 702.2L562.45 696.2M555.15 696.2L561.45 702.2M555.15 702.2L561.45 696.2M554.15 696.2L560.45 702.2M554.15 702.2L560.45 696.2M553.15 696.2L559.45 702.2M553.15 702.2L559.45 696.2M552.15 696.2L558.45 702.2M552.15 702.2L558.45 696.2M551.15 696.2L557.45 702.2M551.15 702.2L557.45 696.2M550.15 696.2L556.45 702.2M550.15 702.2L556.45 696.2M549.15 696.2L555.45 702.2M549.15 702.2L555.45 696.2M548.15 696.2L554.45 702.2M548.15 702.2L554.45 696.2M547.15 696.2L553.45 702.2M547.15 702.2L553.45 696.2M546.15 696.2L552.45 702.2M546.15 702.2L552.45 696.2M545.15 696.2L551.45 702.2M545.15 702.2L551.45 696.2M544.15 696.2L550.45 702.2M544.15 702.2L550.45 696.2M543.15 696.2L549.45 702.2M543.15 702.2L549.45 696.2M542.15 696.2L548.45 702.2M542.15 702.2L548.45 696.2M541.15 696.2L547.45 702.2M541.15 702.2L547.45 696.2" stroke="#ff0000" stroke-width="1.15" fill="none"/><path d="M584.25 542.7L590.55 548.7M584.25 548.7L590.55 542.7M583 542.7L589.3 548.7M583 548.7L589.3 542.7" stroke="#ff0000" stroke-width="1.2" fill="none"/><path d="M584.25 644.6L590.55 650.6M584.25 650.6L590.55 644.6M583 644.6L589.3 650.6M583 650.6L589.3 644.6" stroke="#ff0000" stroke-width="1.2" fill="none"/><path d="M584.25 670.6L590.55 676.6M584.25 676.6L590.55 670.6M583.05 670.6L589.35 676.6M583.05 676.6L589.35 670.6M581.85 670.6L588.15 676.6M581.85 676.6L588.15 670.6" stroke="#ff0000" stroke-width="1.2" fill="none"/><path d="M593.2 532.6L603.6 532.6C604.3 533.87 605.85 537.12 607.8 540.2C609.75 543.28 613.07 547.75 615.3 551.1C617.53 554.45 619.85 557.37 621.2 560.3C622.55 563.23 623.53 565.62 623.4 568.7C623.27 571.78 622.03 575.43 620.4 578.8C618.77 582.17 616.12 585.68 613.6 588.9C611.08 592.12 607.53 595.17 605.3 598.1C603.07 601.03 601.47 603.85 600.2 606.5C598.93 609.15 597.98 611.07 597.7 614C597.42 616.93 598.08 620.73 598.5 624.1C598.92 627.47 599.77 631.53 600.2 634.2C600.63 636.87 600.4 636.88 601.1 640.1C601.8 643.32 603.02 649.45 604.4 653.5C605.78 657.55 607.02 660.9 609.4 664.4C611.78 667.9 614.63 671.28 618.7 674.5C622.77 677.72 628.48 680.9 633.8 683.7C639.12 686.5 645 688.78 650.6 691.3C656.2 693.82 662.78 696.43 667.4 698.8C672.02 701.17 675.85 703.4 678.3 705.5C680.75 707.6 681.97 709.3 682.1 711.4C682.23 713.5 681.55 715.72 679.1 718.1C676.65 720.48 672.15 723.32 667.4 725.7C662.65 728.08 655.63 730.55 650.6 732.4C645.57 734.25 640.57 735.85 637.2 736.8C633.83 737.75 631.53 737.88 630.4 738.1L593.2 738.3Z" fill="url(#vg)" stroke="#111" stroke-width="1.12" stroke-dasharray="6 3" stroke-linejoin="round"/><path d="M606.75 605.6V737" stroke="#f51414" stroke-width="1.15" stroke-dasharray="6.4 4.1" fill="none"/><circle cx="606.6" cy="669.6" r="3.55" fill="url(#ball)"/><text class="an" x="610" y="609.8">0.8301</text><text class="an" x="610.3" y="736.6">-0.162</text><text class="tt" x="583.2" y="760.75">In<tspan class="sb" dx="0.3" dy="4.3">9</tspan></text></g>
</svg></body></html>
